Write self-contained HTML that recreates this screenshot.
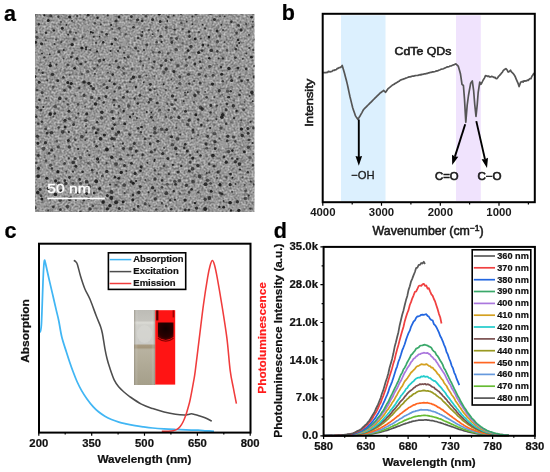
<!DOCTYPE html>
<html><head><meta charset="utf-8"><title>CdTe QDs figure</title>
<style>html,body{margin:0;padding:0;background:#fff;} svg{display:block;}</style></head>
<body>
<svg width="550" height="472" viewBox="0 0 550 472" font-family="'Liberation Sans', Arial, sans-serif">
<rect width="550" height="472" fill="#fff"/>
<defs>
<filter id="nz" x="0" y="0" width="100%" height="100%" filterUnits="objectBoundingBox" color-interpolation-filters="sRGB"><feTurbulence type="fractalNoise" baseFrequency="0.5" numOctaves="2" seed="7" result="t"/><feColorMatrix in="t" type="matrix" values="0.6 0 0 0 0.3  0.6 0 0 0 0.3  0.6 0 0 0 0.3  0 0 0 0 1" result="c"/><feGaussianBlur in="c" stdDeviation="0.35"/></filter>
<filter id="bl" x="-50%" y="-50%" width="200%" height="200%"><feGaussianBlur stdDeviation="0.5"/></filter>
<clipPath id="tc"><rect x="35" y="14" width="219.5" height="198"/></clipPath>
</defs>
<g clip-path="url(#tc)">
<rect x="35" y="14" width="219.5" height="198" fill="#999" filter="url(#nz)"/>
<g fill="#3a3a3a" fill-opacity="0.22" filter="url(#bl)"><circle cx="36.6" cy="15.8" r="1.7"/><circle cx="47.3" cy="14.8" r="1.5"/><circle cx="55.4" cy="12.3" r="1.8"/><circle cx="64.8" cy="16.7" r="1.7"/><circle cx="69.3" cy="11.3" r="1.4"/><circle cx="93.5" cy="17.9" r="1.8"/><circle cx="121.4" cy="14.3" r="1.1"/><circle cx="133.6" cy="18.8" r="1.4"/><circle cx="142.8" cy="18.8" r="1.2"/><circle cx="159.3" cy="16.4" r="1.1"/><circle cx="162.9" cy="13.4" r="1.8"/><circle cx="181.9" cy="16.4" r="1.3"/><circle cx="196.8" cy="12.5" r="1.6"/><circle cx="219.0" cy="12.9" r="1.1"/><circle cx="231.5" cy="15.5" r="1.2"/><circle cx="253.5" cy="13.8" r="1.1"/><circle cx="38.6" cy="23.0" r="1.0"/><circle cx="59.5" cy="24.4" r="1.8"/><circle cx="78.1" cy="25.6" r="1.7"/><circle cx="84.6" cy="22.6" r="1.3"/><circle cx="100.8" cy="25.0" r="1.1"/><circle cx="110.1" cy="25.3" r="1.0"/><circle cx="116.3" cy="25.0" r="1.7"/><circle cx="131.5" cy="21.5" r="1.3"/><circle cx="139.5" cy="24.2" r="1.6"/><circle cx="151.1" cy="24.9" r="1.5"/><circle cx="164.3" cy="21.8" r="1.0"/><circle cx="166.3" cy="18.7" r="1.3"/><circle cx="181.4" cy="24.3" r="1.7"/><circle cx="183.3" cy="23.1" r="1.0"/><circle cx="196.4" cy="21.5" r="1.7"/><circle cx="206.4" cy="26.1" r="1.5"/><circle cx="212.7" cy="19.2" r="1.4"/><circle cx="218.3" cy="20.4" r="1.5"/><circle cx="247.3" cy="25.8" r="1.5"/><circle cx="255.2" cy="24.0" r="1.8"/><circle cx="36.7" cy="28.4" r="1.2"/><circle cx="51.3" cy="32.3" r="1.2"/><circle cx="65.7" cy="29.7" r="1.5"/><circle cx="76.9" cy="31.6" r="1.5"/><circle cx="84.7" cy="30.9" r="1.5"/><circle cx="95.6" cy="31.7" r="1.1"/><circle cx="106.7" cy="28.6" r="1.0"/><circle cx="117.0" cy="29.0" r="1.4"/><circle cx="130.2" cy="31.2" r="1.5"/><circle cx="144.3" cy="28.3" r="1.6"/><circle cx="166.8" cy="30.7" r="1.4"/><circle cx="170.5" cy="27.3" r="1.4"/><circle cx="185.2" cy="26.2" r="1.4"/><circle cx="211.3" cy="26.8" r="1.6"/><circle cx="217.3" cy="27.1" r="1.3"/><circle cx="227.5" cy="26.1" r="1.6"/><circle cx="245.3" cy="29.8" r="1.5"/><circle cx="250.7" cy="27.4" r="1.4"/><circle cx="41.6" cy="34.6" r="1.4"/><circle cx="45.5" cy="37.7" r="1.7"/><circle cx="68.6" cy="40.8" r="1.7"/><circle cx="74.0" cy="40.1" r="1.6"/><circle cx="84.5" cy="35.8" r="1.4"/><circle cx="90.0" cy="40.1" r="1.4"/><circle cx="99.5" cy="40.2" r="1.4"/><circle cx="106.2" cy="38.2" r="1.4"/><circle cx="119.3" cy="33.8" r="1.3"/><circle cx="123.8" cy="36.0" r="1.1"/><circle cx="134.6" cy="40.8" r="1.2"/><circle cx="140.2" cy="38.8" r="1.8"/><circle cx="152.1" cy="37.2" r="1.2"/><circle cx="159.5" cy="38.6" r="1.3"/><circle cx="172.1" cy="34.3" r="1.3"/><circle cx="179.8" cy="40.0" r="1.4"/><circle cx="188.1" cy="36.1" r="1.7"/><circle cx="192.5" cy="39.4" r="1.7"/><circle cx="206.1" cy="33.8" r="1.5"/><circle cx="209.9" cy="39.6" r="1.7"/><circle cx="218.8" cy="33.7" r="1.1"/><circle cx="227.2" cy="40.1" r="1.4"/><circle cx="235.6" cy="34.8" r="1.1"/><circle cx="250.2" cy="35.4" r="1.1"/><circle cx="258.3" cy="36.1" r="1.5"/><circle cx="36.3" cy="44.5" r="1.6"/><circle cx="52.0" cy="48.8" r="1.3"/><circle cx="59.5" cy="42.5" r="1.7"/><circle cx="67.9" cy="45.8" r="1.3"/><circle cx="84.8" cy="44.8" r="1.0"/><circle cx="95.0" cy="46.7" r="1.6"/><circle cx="102.4" cy="44.7" r="1.6"/><circle cx="116.9" cy="44.6" r="1.8"/><circle cx="125.1" cy="47.2" r="1.2"/><circle cx="127.8" cy="41.0" r="1.8"/><circle cx="147.3" cy="43.5" r="1.0"/><circle cx="156.4" cy="46.6" r="1.3"/><circle cx="178.7" cy="47.3" r="1.4"/><circle cx="188.2" cy="42.3" r="1.5"/><circle cx="197.6" cy="42.8" r="1.2"/><circle cx="210.8" cy="47.4" r="1.7"/><circle cx="218.9" cy="46.8" r="1.2"/><circle cx="235.0" cy="48.3" r="1.3"/><circle cx="241.5" cy="43.0" r="1.1"/><circle cx="58.0" cy="49.6" r="1.4"/><circle cx="65.3" cy="48.3" r="1.3"/><circle cx="80.2" cy="51.4" r="1.8"/><circle cx="95.4" cy="53.1" r="1.7"/><circle cx="99.3" cy="55.8" r="1.4"/><circle cx="111.9" cy="51.8" r="1.3"/><circle cx="131.4" cy="53.2" r="1.1"/><circle cx="151.6" cy="49.4" r="1.5"/><circle cx="162.3" cy="54.4" r="1.6"/><circle cx="186.3" cy="52.5" r="1.7"/><circle cx="194.4" cy="52.6" r="1.5"/><circle cx="214.2" cy="51.4" r="1.4"/><circle cx="222.1" cy="55.2" r="1.5"/><circle cx="232.6" cy="49.9" r="1.3"/><circle cx="240.7" cy="54.9" r="1.7"/><circle cx="257.9" cy="53.0" r="1.1"/><circle cx="45.6" cy="61.0" r="1.3"/><circle cx="79.1" cy="62.9" r="1.4"/><circle cx="90.5" cy="60.0" r="1.2"/><circle cx="94.9" cy="60.4" r="1.5"/><circle cx="116.3" cy="60.7" r="1.4"/><circle cx="125.3" cy="58.9" r="1.2"/><circle cx="136.6" cy="57.7" r="1.2"/><circle cx="145.2" cy="57.0" r="1.4"/><circle cx="158.4" cy="58.8" r="1.4"/><circle cx="165.3" cy="59.3" r="1.0"/><circle cx="176.1" cy="63.6" r="1.3"/><circle cx="185.1" cy="56.8" r="1.3"/><circle cx="193.7" cy="59.3" r="1.4"/><circle cx="203.2" cy="60.4" r="1.5"/><circle cx="218.7" cy="59.1" r="1.3"/><circle cx="222.1" cy="60.1" r="1.3"/><circle cx="239.7" cy="61.0" r="1.1"/><circle cx="250.2" cy="56.2" r="1.2"/><circle cx="39.3" cy="64.3" r="1.3"/><circle cx="46.9" cy="65.2" r="1.3"/><circle cx="57.2" cy="70.9" r="1.3"/><circle cx="65.1" cy="70.1" r="1.6"/><circle cx="73.1" cy="65.3" r="1.7"/><circle cx="85.4" cy="67.2" r="1.8"/><circle cx="92.4" cy="70.9" r="1.3"/><circle cx="97.7" cy="67.5" r="1.5"/><circle cx="110.5" cy="63.9" r="1.6"/><circle cx="117.2" cy="64.5" r="1.7"/><circle cx="126.4" cy="65.8" r="1.8"/><circle cx="138.4" cy="68.9" r="1.5"/><circle cx="142.8" cy="63.9" r="1.3"/><circle cx="148.3" cy="65.8" r="1.2"/><circle cx="160.9" cy="66.5" r="1.2"/><circle cx="172.8" cy="70.6" r="1.1"/><circle cx="181.9" cy="64.1" r="1.4"/><circle cx="187.5" cy="63.6" r="1.4"/><circle cx="194.9" cy="65.5" r="1.2"/><circle cx="200.6" cy="68.6" r="1.2"/><circle cx="216.0" cy="65.5" r="1.7"/><circle cx="228.2" cy="70.6" r="1.3"/><circle cx="234.9" cy="65.2" r="1.4"/><circle cx="250.7" cy="63.5" r="1.3"/><circle cx="254.8" cy="66.5" r="1.5"/><circle cx="34.9" cy="76.4" r="1.2"/><circle cx="43.9" cy="77.3" r="1.5"/><circle cx="50.8" cy="73.7" r="1.5"/><circle cx="65.5" cy="71.4" r="1.7"/><circle cx="74.0" cy="72.9" r="1.7"/><circle cx="80.0" cy="74.6" r="1.5"/><circle cx="99.3" cy="72.5" r="1.2"/><circle cx="102.5" cy="74.9" r="1.4"/><circle cx="110.6" cy="72.8" r="1.5"/><circle cx="128.6" cy="74.8" r="1.3"/><circle cx="149.5" cy="76.9" r="1.6"/><circle cx="165.9" cy="71.1" r="1.7"/><circle cx="175.7" cy="74.4" r="1.1"/><circle cx="186.9" cy="74.9" r="1.4"/><circle cx="197.3" cy="74.8" r="1.5"/><circle cx="204.0" cy="72.4" r="1.3"/><circle cx="216.6" cy="73.4" r="1.4"/><circle cx="221.8" cy="77.7" r="1.1"/><circle cx="236.2" cy="71.0" r="1.4"/><circle cx="246.2" cy="73.0" r="1.3"/><circle cx="253.0" cy="74.1" r="1.6"/><circle cx="42.1" cy="84.4" r="1.7"/><circle cx="51.4" cy="80.0" r="1.7"/><circle cx="55.9" cy="78.6" r="1.7"/><circle cx="68.7" cy="85.4" r="1.5"/><circle cx="74.4" cy="83.3" r="1.5"/><circle cx="85.2" cy="84.8" r="1.8"/><circle cx="89.2" cy="84.9" r="1.6"/><circle cx="98.1" cy="85.7" r="1.4"/><circle cx="105.1" cy="81.5" r="1.4"/><circle cx="117.4" cy="82.5" r="1.2"/><circle cx="125.2" cy="82.3" r="1.3"/><circle cx="133.8" cy="84.6" r="1.4"/><circle cx="147.5" cy="79.2" r="1.2"/><circle cx="151.5" cy="83.6" r="1.0"/><circle cx="159.1" cy="79.0" r="1.1"/><circle cx="176.8" cy="81.5" r="1.5"/><circle cx="186.6" cy="84.0" r="1.7"/><circle cx="206.7" cy="85.9" r="1.6"/><circle cx="214.9" cy="84.7" r="1.8"/><circle cx="223.9" cy="83.3" r="1.3"/><circle cx="226.7" cy="80.8" r="1.1"/><circle cx="239.7" cy="81.2" r="1.7"/><circle cx="246.3" cy="83.2" r="1.6"/><circle cx="258.1" cy="78.3" r="1.6"/><circle cx="37.9" cy="86.5" r="1.7"/><circle cx="46.0" cy="90.2" r="1.6"/><circle cx="53.1" cy="85.9" r="1.3"/><circle cx="62.9" cy="90.2" r="1.7"/><circle cx="68.5" cy="86.0" r="1.2"/><circle cx="77.6" cy="88.7" r="1.8"/><circle cx="84.4" cy="88.3" r="1.4"/><circle cx="101.5" cy="86.0" r="1.6"/><circle cx="112.2" cy="92.6" r="1.4"/><circle cx="127.2" cy="86.9" r="1.5"/><circle cx="147.2" cy="85.7" r="1.1"/><circle cx="180.1" cy="88.8" r="1.6"/><circle cx="189.4" cy="90.3" r="1.7"/><circle cx="204.3" cy="86.9" r="1.1"/><circle cx="228.0" cy="88.3" r="1.5"/><circle cx="231.0" cy="87.5" r="1.6"/><circle cx="249.0" cy="87.2" r="1.6"/><circle cx="48.5" cy="98.8" r="1.3"/><circle cx="90.9" cy="96.9" r="1.6"/><circle cx="97.6" cy="100.0" r="1.6"/><circle cx="112.5" cy="99.2" r="1.1"/><circle cx="120.4" cy="98.4" r="1.5"/><circle cx="127.4" cy="98.1" r="1.5"/><circle cx="138.1" cy="100.0" r="1.8"/><circle cx="144.5" cy="93.0" r="1.7"/><circle cx="149.3" cy="99.0" r="1.1"/><circle cx="160.3" cy="97.3" r="1.3"/><circle cx="168.4" cy="99.6" r="1.7"/><circle cx="174.7" cy="99.9" r="1.4"/><circle cx="194.3" cy="94.5" r="1.7"/><circle cx="201.1" cy="100.7" r="1.6"/><circle cx="210.9" cy="100.4" r="1.2"/><circle cx="219.4" cy="95.9" r="1.8"/><circle cx="233.5" cy="99.8" r="1.7"/><circle cx="238.6" cy="95.4" r="1.2"/><circle cx="246.7" cy="94.4" r="1.5"/><circle cx="254.3" cy="95.0" r="1.5"/><circle cx="36.3" cy="102.1" r="1.2"/><circle cx="48.4" cy="101.4" r="1.5"/><circle cx="56.1" cy="102.6" r="1.2"/><circle cx="64.1" cy="108.0" r="1.6"/><circle cx="72.0" cy="100.8" r="1.2"/><circle cx="84.6" cy="102.1" r="1.7"/><circle cx="94.8" cy="104.4" r="1.2"/><circle cx="114.9" cy="101.7" r="1.3"/><circle cx="121.0" cy="101.2" r="1.5"/><circle cx="129.0" cy="104.3" r="1.4"/><circle cx="144.3" cy="100.5" r="1.4"/><circle cx="155.3" cy="106.1" r="1.5"/><circle cx="167.6" cy="103.2" r="1.2"/><circle cx="182.9" cy="102.8" r="1.8"/><circle cx="193.8" cy="107.6" r="1.6"/><circle cx="202.1" cy="108.1" r="1.4"/><circle cx="210.9" cy="107.2" r="1.5"/><circle cx="214.9" cy="107.6" r="1.7"/><circle cx="222.0" cy="107.4" r="1.3"/><circle cx="233.5" cy="100.6" r="1.2"/><circle cx="242.0" cy="104.1" r="1.7"/><circle cx="251.6" cy="104.0" r="1.7"/><circle cx="42.8" cy="112.9" r="1.4"/><circle cx="58.8" cy="108.9" r="1.7"/><circle cx="62.5" cy="108.5" r="1.2"/><circle cx="73.8" cy="115.4" r="1.7"/><circle cx="92.9" cy="110.7" r="1.7"/><circle cx="120.6" cy="110.3" r="1.5"/><circle cx="123.2" cy="111.9" r="1.7"/><circle cx="137.3" cy="110.2" r="1.7"/><circle cx="143.7" cy="113.7" r="1.4"/><circle cx="153.0" cy="114.6" r="1.5"/><circle cx="165.3" cy="113.6" r="1.6"/><circle cx="177.6" cy="110.0" r="1.3"/><circle cx="195.5" cy="111.8" r="1.5"/><circle cx="200.6" cy="114.6" r="1.4"/><circle cx="212.1" cy="114.2" r="1.4"/><circle cx="223.5" cy="115.4" r="1.5"/><circle cx="229.1" cy="112.4" r="1.3"/><circle cx="238.1" cy="115.6" r="1.1"/><circle cx="245.9" cy="108.1" r="1.2"/><circle cx="33.7" cy="123.0" r="1.7"/><circle cx="42.2" cy="116.5" r="1.4"/><circle cx="51.4" cy="117.1" r="1.5"/><circle cx="63.7" cy="121.8" r="1.7"/><circle cx="74.0" cy="122.1" r="1.3"/><circle cx="88.6" cy="117.4" r="1.4"/><circle cx="104.6" cy="116.9" r="1.4"/><circle cx="118.5" cy="122.9" r="1.4"/><circle cx="133.9" cy="119.8" r="1.2"/><circle cx="150.6" cy="120.2" r="1.3"/><circle cx="155.6" cy="122.3" r="1.1"/><circle cx="182.7" cy="121.2" r="1.6"/><circle cx="200.7" cy="116.2" r="1.4"/><circle cx="215.8" cy="117.9" r="1.2"/><circle cx="225.5" cy="122.4" r="1.3"/><circle cx="231.3" cy="121.3" r="1.5"/><circle cx="248.1" cy="120.1" r="1.2"/><circle cx="38.0" cy="122.9" r="1.3"/><circle cx="48.4" cy="125.7" r="1.2"/><circle cx="65.6" cy="128.7" r="1.5"/><circle cx="97.7" cy="130.0" r="1.6"/><circle cx="124.7" cy="129.7" r="1.7"/><circle cx="138.4" cy="129.3" r="1.2"/><circle cx="144.7" cy="126.0" r="1.8"/><circle cx="163.0" cy="129.6" r="1.4"/><circle cx="172.7" cy="128.6" r="1.2"/><circle cx="178.0" cy="123.2" r="1.6"/><circle cx="188.8" cy="126.4" r="1.6"/><circle cx="193.9" cy="122.7" r="1.4"/><circle cx="204.2" cy="124.3" r="1.5"/><circle cx="213.6" cy="124.6" r="1.7"/><circle cx="223.4" cy="129.3" r="1.3"/><circle cx="232.0" cy="122.8" r="1.6"/><circle cx="240.9" cy="124.7" r="1.5"/><circle cx="246.7" cy="123.1" r="1.6"/><circle cx="256.7" cy="126.3" r="1.7"/><circle cx="36.1" cy="135.1" r="1.8"/><circle cx="41.9" cy="133.9" r="1.6"/><circle cx="49.4" cy="131.7" r="1.4"/><circle cx="63.9" cy="132.0" r="1.8"/><circle cx="73.4" cy="132.1" r="1.1"/><circle cx="76.4" cy="134.9" r="1.5"/><circle cx="84.3" cy="132.6" r="1.3"/><circle cx="97.9" cy="132.7" r="1.8"/><circle cx="101.8" cy="131.8" r="1.1"/><circle cx="109.7" cy="130.7" r="1.1"/><circle cx="119.4" cy="133.5" r="1.7"/><circle cx="130.6" cy="133.6" r="1.7"/><circle cx="138.3" cy="136.3" r="1.7"/><circle cx="157.8" cy="132.3" r="1.3"/><circle cx="165.0" cy="130.2" r="1.2"/><circle cx="170.4" cy="136.2" r="1.7"/><circle cx="179.4" cy="130.4" r="1.7"/><circle cx="192.3" cy="130.5" r="1.5"/><circle cx="197.6" cy="135.9" r="1.8"/><circle cx="206.4" cy="135.6" r="1.7"/><circle cx="228.2" cy="136.2" r="1.4"/><circle cx="231.7" cy="131.8" r="1.2"/><circle cx="246.3" cy="132.1" r="1.0"/><circle cx="250.5" cy="136.1" r="1.7"/><circle cx="41.5" cy="141.1" r="1.5"/><circle cx="57.8" cy="140.3" r="1.0"/><circle cx="69.4" cy="139.6" r="1.0"/><circle cx="70.8" cy="137.8" r="1.7"/><circle cx="86.8" cy="138.9" r="1.2"/><circle cx="93.7" cy="139.6" r="1.6"/><circle cx="99.9" cy="145.1" r="1.7"/><circle cx="113.0" cy="138.6" r="1.8"/><circle cx="120.2" cy="144.1" r="1.3"/><circle cx="129.6" cy="139.9" r="1.2"/><circle cx="136.4" cy="145.2" r="1.1"/><circle cx="139.8" cy="143.8" r="1.2"/><circle cx="149.1" cy="139.0" r="1.3"/><circle cx="168.1" cy="137.7" r="1.7"/><circle cx="179.3" cy="138.6" r="1.2"/><circle cx="210.8" cy="138.0" r="1.4"/><circle cx="226.8" cy="142.0" r="1.3"/><circle cx="238.8" cy="144.8" r="1.3"/><circle cx="244.1" cy="144.4" r="1.4"/><circle cx="32.6" cy="146.6" r="1.7"/><circle cx="47.5" cy="152.9" r="1.6"/><circle cx="51.9" cy="145.5" r="1.7"/><circle cx="60.5" cy="153.0" r="1.5"/><circle cx="79.4" cy="152.7" r="1.6"/><circle cx="89.7" cy="148.0" r="1.3"/><circle cx="98.9" cy="151.3" r="1.6"/><circle cx="101.9" cy="152.4" r="1.6"/><circle cx="116.7" cy="151.2" r="1.3"/><circle cx="118.8" cy="152.1" r="1.3"/><circle cx="133.3" cy="146.2" r="1.1"/><circle cx="140.4" cy="146.9" r="1.5"/><circle cx="145.8" cy="145.2" r="1.5"/><circle cx="155.3" cy="148.9" r="1.0"/><circle cx="164.8" cy="151.7" r="1.8"/><circle cx="175.6" cy="149.8" r="1.3"/><circle cx="184.2" cy="146.5" r="1.7"/><circle cx="211.1" cy="145.2" r="1.7"/><circle cx="219.3" cy="150.3" r="1.7"/><circle cx="225.8" cy="150.7" r="1.5"/><circle cx="233.6" cy="147.8" r="1.4"/><circle cx="242.2" cy="147.8" r="1.8"/><circle cx="249.9" cy="148.8" r="1.4"/><circle cx="36.9" cy="155.2" r="1.2"/><circle cx="45.1" cy="156.6" r="1.8"/><circle cx="55.6" cy="158.5" r="1.7"/><circle cx="68.1" cy="154.1" r="1.2"/><circle cx="82.1" cy="153.3" r="1.5"/><circle cx="93.5" cy="153.8" r="1.0"/><circle cx="109.0" cy="155.3" r="1.2"/><circle cx="117.4" cy="154.6" r="1.7"/><circle cx="132.1" cy="155.6" r="1.1"/><circle cx="154.3" cy="158.1" r="1.1"/><circle cx="160.0" cy="153.4" r="1.3"/><circle cx="180.6" cy="157.7" r="1.7"/><circle cx="182.6" cy="155.1" r="1.8"/><circle cx="206.4" cy="155.7" r="1.6"/><circle cx="218.8" cy="157.7" r="1.8"/><circle cx="230.7" cy="155.4" r="1.8"/><circle cx="241.7" cy="160.1" r="1.5"/><circle cx="244.3" cy="160.4" r="1.5"/><circle cx="257.2" cy="159.5" r="1.7"/><circle cx="34.2" cy="165.0" r="1.2"/><circle cx="40.6" cy="165.7" r="1.6"/><circle cx="52.6" cy="162.8" r="1.6"/><circle cx="71.0" cy="166.8" r="1.2"/><circle cx="81.2" cy="162.8" r="1.7"/><circle cx="89.4" cy="162.3" r="1.2"/><circle cx="97.1" cy="167.6" r="1.4"/><circle cx="110.8" cy="163.4" r="1.0"/><circle cx="118.1" cy="166.7" r="1.6"/><circle cx="130.5" cy="163.7" r="1.4"/><circle cx="166.0" cy="167.0" r="1.7"/><circle cx="187.7" cy="165.2" r="1.8"/><circle cx="199.3" cy="166.6" r="1.1"/><circle cx="226.6" cy="162.5" r="1.8"/><circle cx="236.9" cy="161.8" r="1.3"/><circle cx="241.0" cy="162.0" r="1.1"/><circle cx="249.9" cy="164.5" r="1.1"/><circle cx="37.9" cy="172.3" r="1.0"/><circle cx="50.5" cy="175.4" r="1.2"/><circle cx="56.6" cy="173.9" r="1.3"/><circle cx="63.1" cy="175.0" r="1.2"/><circle cx="74.9" cy="169.7" r="1.4"/><circle cx="88.9" cy="175.1" r="1.5"/><circle cx="112.7" cy="175.0" r="1.1"/><circle cx="116.6" cy="170.8" r="1.1"/><circle cx="138.2" cy="168.1" r="1.4"/><circle cx="143.7" cy="168.7" r="1.4"/><circle cx="160.9" cy="168.9" r="1.8"/><circle cx="167.1" cy="167.7" r="1.2"/><circle cx="174.6" cy="169.4" r="1.2"/><circle cx="212.3" cy="170.3" r="1.1"/><circle cx="223.1" cy="173.1" r="1.4"/><circle cx="233.2" cy="169.2" r="1.7"/><circle cx="244.5" cy="171.5" r="1.6"/><circle cx="253.0" cy="169.2" r="1.2"/><circle cx="41.9" cy="176.8" r="1.3"/><circle cx="54.5" cy="177.7" r="1.7"/><circle cx="58.7" cy="178.4" r="1.7"/><circle cx="71.0" cy="180.3" r="1.3"/><circle cx="77.7" cy="177.2" r="1.7"/><circle cx="104.1" cy="182.8" r="1.7"/><circle cx="117.0" cy="182.0" r="1.4"/><circle cx="118.1" cy="182.3" r="1.8"/><circle cx="130.6" cy="182.2" r="1.3"/><circle cx="140.5" cy="178.6" r="1.6"/><circle cx="147.7" cy="180.4" r="1.6"/><circle cx="156.0" cy="179.5" r="1.1"/><circle cx="167.5" cy="176.6" r="1.6"/><circle cx="184.7" cy="177.6" r="1.5"/><circle cx="193.6" cy="176.3" r="1.7"/><circle cx="195.7" cy="175.7" r="1.7"/><circle cx="205.4" cy="178.1" r="1.3"/><circle cx="219.8" cy="176.4" r="1.7"/><circle cx="225.4" cy="177.0" r="1.5"/><circle cx="232.8" cy="179.3" r="1.4"/><circle cx="238.7" cy="181.2" r="1.3"/><circle cx="254.0" cy="181.6" r="1.2"/><circle cx="43.4" cy="183.9" r="1.5"/><circle cx="58.9" cy="186.3" r="1.7"/><circle cx="65.0" cy="185.1" r="1.7"/><circle cx="76.4" cy="183.9" r="1.5"/><circle cx="93.4" cy="184.8" r="1.2"/><circle cx="100.1" cy="189.8" r="1.8"/><circle cx="114.7" cy="186.4" r="1.4"/><circle cx="127.7" cy="190.3" r="1.5"/><circle cx="133.6" cy="184.9" r="1.3"/><circle cx="149.1" cy="183.6" r="1.4"/><circle cx="156.8" cy="184.3" r="1.1"/><circle cx="169.8" cy="189.9" r="1.7"/><circle cx="180.8" cy="187.5" r="1.4"/><circle cx="188.9" cy="182.5" r="1.7"/><circle cx="199.1" cy="187.9" r="1.2"/><circle cx="202.1" cy="189.8" r="1.4"/><circle cx="224.7" cy="183.2" r="1.6"/><circle cx="226.9" cy="187.0" r="1.1"/><circle cx="252.3" cy="182.4" r="1.6"/><circle cx="38.8" cy="193.7" r="1.3"/><circle cx="43.0" cy="193.0" r="1.7"/><circle cx="49.8" cy="197.3" r="1.0"/><circle cx="59.9" cy="194.2" r="1.6"/><circle cx="70.1" cy="191.0" r="1.7"/><circle cx="91.0" cy="193.0" r="1.2"/><circle cx="104.2" cy="191.3" r="1.1"/><circle cx="116.0" cy="190.2" r="1.3"/><circle cx="119.4" cy="196.7" r="1.4"/><circle cx="133.0" cy="193.9" r="1.1"/><circle cx="137.0" cy="194.1" r="1.3"/><circle cx="150.9" cy="194.3" r="1.7"/><circle cx="154.1" cy="193.5" r="1.7"/><circle cx="162.5" cy="195.3" r="1.0"/><circle cx="170.7" cy="195.7" r="1.0"/><circle cx="184.2" cy="192.7" r="1.8"/><circle cx="188.8" cy="195.0" r="1.2"/><circle cx="202.6" cy="196.5" r="1.5"/><circle cx="208.5" cy="189.8" r="1.5"/><circle cx="215.7" cy="196.8" r="1.3"/><circle cx="223.6" cy="195.5" r="1.2"/><circle cx="236.0" cy="196.8" r="1.0"/><circle cx="246.1" cy="194.1" r="1.7"/><circle cx="249.2" cy="197.7" r="1.8"/><circle cx="43.3" cy="201.4" r="1.6"/><circle cx="47.3" cy="200.7" r="1.4"/><circle cx="60.6" cy="202.9" r="1.1"/><circle cx="72.8" cy="199.1" r="1.1"/><circle cx="83.4" cy="203.7" r="1.5"/><circle cx="104.2" cy="201.0" r="1.1"/><circle cx="111.3" cy="201.9" r="1.2"/><circle cx="118.4" cy="199.9" r="1.2"/><circle cx="126.2" cy="200.1" r="1.1"/><circle cx="137.8" cy="197.8" r="1.4"/><circle cx="147.3" cy="198.8" r="1.0"/><circle cx="157.2" cy="197.3" r="1.7"/><circle cx="189.5" cy="204.7" r="1.5"/><circle cx="196.7" cy="197.2" r="1.2"/><circle cx="205.2" cy="201.2" r="1.1"/><circle cx="208.8" cy="202.9" r="1.8"/><circle cx="218.3" cy="198.9" r="1.1"/><circle cx="236.3" cy="200.6" r="1.3"/><circle cx="244.5" cy="200.5" r="1.6"/><circle cx="252.5" cy="204.3" r="1.3"/><circle cx="47.4" cy="211.6" r="1.3"/><circle cx="50.4" cy="210.1" r="1.6"/><circle cx="58.4" cy="209.1" r="1.3"/><circle cx="72.1" cy="212.0" r="1.6"/><circle cx="81.2" cy="211.8" r="1.0"/><circle cx="87.3" cy="212.3" r="1.4"/><circle cx="96.2" cy="207.4" r="1.3"/><circle cx="104.2" cy="205.0" r="1.5"/><circle cx="116.6" cy="207.9" r="1.4"/><circle cx="118.4" cy="211.1" r="1.4"/><circle cx="128.4" cy="206.8" r="1.4"/><circle cx="149.6" cy="212.6" r="1.2"/><circle cx="157.9" cy="210.4" r="1.4"/><circle cx="162.6" cy="211.1" r="1.7"/><circle cx="176.2" cy="211.2" r="1.0"/><circle cx="178.7" cy="206.0" r="1.4"/><circle cx="190.1" cy="209.5" r="1.5"/><circle cx="196.9" cy="205.4" r="1.4"/><circle cx="209.6" cy="210.0" r="1.6"/><circle cx="220.1" cy="208.3" r="1.2"/><circle cx="222.8" cy="212.6" r="1.2"/><circle cx="237.2" cy="211.3" r="1.5"/><circle cx="243.7" cy="210.2" r="1.8"/><circle cx="251.4" cy="208.9" r="1.6"/></g>
<g fill="#1c1c1c" filter="url(#bl)"><circle cx="34.1" cy="15.3" r="1.3" fill-opacity="0.97"/><circle cx="44.4" cy="15.3" r="1.1" fill-opacity="1.00"/><circle cx="50.7" cy="15.9" r="1.6" fill-opacity="0.76"/><circle cx="58.5" cy="16.8" r="1.2" fill-opacity="0.79"/><circle cx="69.6" cy="16.9" r="1.5" fill-opacity="0.99"/><circle cx="77.3" cy="16.1" r="1.2" fill-opacity="0.77"/><circle cx="88.1" cy="15.2" r="1.4" fill-opacity="0.83"/><circle cx="97.5" cy="17.7" r="1.2" fill-opacity="1.00"/><circle cx="107.7" cy="15.4" r="1.1" fill-opacity="0.85"/><circle cx="111.7" cy="12.6" r="1.4" fill-opacity="0.94"/><circle cx="119.0" cy="16.9" r="1.4" fill-opacity="0.96"/><circle cx="131.4" cy="16.7" r="1.4" fill-opacity="0.89"/><circle cx="142.8" cy="13.8" r="0.9" fill-opacity="0.64"/><circle cx="146.1" cy="16.2" r="1.3" fill-opacity="0.73"/><circle cx="159.3" cy="14.2" r="1.4" fill-opacity="0.95"/><circle cx="168.4" cy="17.0" r="1.2" fill-opacity="0.77"/><circle cx="173.8" cy="15.3" r="0.9" fill-opacity="0.92"/><circle cx="180.9" cy="14.2" r="1.0" fill-opacity="0.62"/><circle cx="192.3" cy="16.5" r="0.9" fill-opacity="0.84"/><circle cx="196.0" cy="14.2" r="1.4" fill-opacity="0.72"/><circle cx="210.5" cy="13.5" r="1.4" fill-opacity="0.64"/><circle cx="220.0" cy="16.2" r="1.0" fill-opacity="0.72"/><circle cx="224.7" cy="16.3" r="0.9" fill-opacity="0.84"/><circle cx="235.1" cy="13.2" r="1.0" fill-opacity="0.63"/><circle cx="244.5" cy="12.0" r="1.1" fill-opacity="0.73"/><circle cx="251.5" cy="17.3" r="1.3" fill-opacity="0.92"/><circle cx="38.8" cy="24.3" r="1.2" fill-opacity="0.79"/><circle cx="48.3" cy="20.5" r="1.5" fill-opacity="0.98"/><circle cx="61.0" cy="22.0" r="1.1" fill-opacity="0.61"/><circle cx="66.4" cy="24.9" r="0.9" fill-opacity="0.94"/><circle cx="72.0" cy="20.8" r="0.9" fill-opacity="0.96"/><circle cx="83.9" cy="19.3" r="0.9" fill-opacity="0.67"/><circle cx="95.1" cy="23.2" r="1.3" fill-opacity="0.65"/><circle cx="100.8" cy="24.4" r="0.9" fill-opacity="0.74"/><circle cx="111.2" cy="25.1" r="1.0" fill-opacity="0.93"/><circle cx="116.1" cy="21.0" r="1.6" fill-opacity="0.81"/><circle cx="128.3" cy="19.5" r="0.9" fill-opacity="0.63"/><circle cx="137.5" cy="19.8" r="1.6" fill-opacity="0.80"/><circle cx="142.1" cy="20.9" r="1.3" fill-opacity="0.77"/><circle cx="152.6" cy="19.5" r="1.5" fill-opacity="0.84"/><circle cx="160.2" cy="21.6" r="1.5" fill-opacity="0.90"/><circle cx="167.3" cy="21.0" r="0.9" fill-opacity="0.92"/><circle cx="181.3" cy="22.8" r="1.2" fill-opacity="0.65"/><circle cx="186.7" cy="21.7" r="0.9" fill-opacity="0.89"/><circle cx="192.5" cy="24.2" r="0.9" fill-opacity="0.81"/><circle cx="202.6" cy="24.7" r="0.9" fill-opacity="0.94"/><circle cx="214.5" cy="19.5" r="1.6" fill-opacity="0.81"/><circle cx="221.3" cy="24.8" r="1.0" fill-opacity="0.93"/><circle cx="231.3" cy="21.8" r="1.3" fill-opacity="0.84"/><circle cx="238.5" cy="25.4" r="1.4" fill-opacity="0.80"/><circle cx="246.1" cy="24.0" r="1.0" fill-opacity="0.77"/><circle cx="252.8" cy="21.8" r="1.0" fill-opacity="0.67"/><circle cx="36.6" cy="32.2" r="1.0" fill-opacity="0.71"/><circle cx="46.0" cy="32.8" r="1.2" fill-opacity="0.87"/><circle cx="53.9" cy="30.4" r="1.2" fill-opacity="0.96"/><circle cx="62.3" cy="28.2" r="1.5" fill-opacity="0.91"/><circle cx="70.2" cy="32.0" r="1.6" fill-opacity="0.61"/><circle cx="75.9" cy="32.8" r="0.9" fill-opacity="0.79"/><circle cx="90.9" cy="32.2" r="1.1" fill-opacity="0.96"/><circle cx="92.9" cy="32.7" r="1.0" fill-opacity="0.95"/><circle cx="101.9" cy="32.0" r="1.2" fill-opacity="0.61"/><circle cx="112.2" cy="29.1" r="1.0" fill-opacity="0.68"/><circle cx="119.3" cy="28.5" r="1.4" fill-opacity="0.65"/><circle cx="133.5" cy="27.3" r="1.3" fill-opacity="0.87"/><circle cx="142.4" cy="31.9" r="1.0" fill-opacity="0.90"/><circle cx="149.0" cy="30.1" r="1.0" fill-opacity="0.87"/><circle cx="158.1" cy="30.8" r="1.0" fill-opacity="0.67"/><circle cx="166.1" cy="27.5" r="1.6" fill-opacity="0.66"/><circle cx="174.7" cy="29.6" r="1.2" fill-opacity="0.91"/><circle cx="182.7" cy="29.2" r="1.0" fill-opacity="0.71"/><circle cx="189.0" cy="31.6" r="1.3" fill-opacity="0.95"/><circle cx="199.0" cy="31.9" r="1.0" fill-opacity="0.74"/><circle cx="205.2" cy="28.4" r="1.0" fill-opacity="0.87"/><circle cx="217.1" cy="31.0" r="1.4" fill-opacity="0.93"/><circle cx="223.0" cy="30.1" r="1.0" fill-opacity="0.68"/><circle cx="236.6" cy="32.8" r="1.4" fill-opacity="0.73"/><circle cx="241.0" cy="29.9" r="1.6" fill-opacity="0.87"/><circle cx="252.6" cy="26.7" r="1.1" fill-opacity="0.80"/><circle cx="37.0" cy="37.3" r="1.5" fill-opacity="0.64"/><circle cx="45.9" cy="40.1" r="0.9" fill-opacity="0.74"/><circle cx="56.2" cy="39.7" r="1.1" fill-opacity="0.63"/><circle cx="68.1" cy="34.4" r="1.0" fill-opacity="0.90"/><circle cx="74.2" cy="39.0" r="1.5" fill-opacity="0.73"/><circle cx="82.5" cy="37.2" r="1.0" fill-opacity="0.81"/><circle cx="93.8" cy="36.7" r="1.0" fill-opacity="0.78"/><circle cx="99.5" cy="36.7" r="0.9" fill-opacity="0.92"/><circle cx="106.6" cy="34.3" r="1.4" fill-opacity="0.80"/><circle cx="115.4" cy="39.5" r="1.4" fill-opacity="0.78"/><circle cx="125.6" cy="34.3" r="1.1" fill-opacity="0.70"/><circle cx="137.9" cy="37.9" r="1.2" fill-opacity="0.71"/><circle cx="141.7" cy="35.8" r="1.3" fill-opacity="0.85"/><circle cx="152.8" cy="34.2" r="0.9" fill-opacity="0.87"/><circle cx="160.8" cy="36.3" r="1.5" fill-opacity="0.74"/><circle cx="171.1" cy="38.2" r="1.4" fill-opacity="0.64"/><circle cx="176.7" cy="38.5" r="1.4" fill-opacity="0.67"/><circle cx="189.5" cy="36.5" r="1.4" fill-opacity="0.78"/><circle cx="195.2" cy="39.0" r="1.4" fill-opacity="0.98"/><circle cx="200.8" cy="38.6" r="1.0" fill-opacity="0.73"/><circle cx="209.0" cy="37.1" r="1.3" fill-opacity="1.00"/><circle cx="219.7" cy="36.1" r="1.5" fill-opacity="0.63"/><circle cx="230.5" cy="37.9" r="0.9" fill-opacity="0.64"/><circle cx="238.1" cy="39.9" r="1.3" fill-opacity="0.92"/><circle cx="249.0" cy="34.9" r="0.9" fill-opacity="0.94"/><circle cx="254.6" cy="39.4" r="1.0" fill-opacity="0.86"/><circle cx="35.6" cy="42.3" r="1.5" fill-opacity="0.93"/><circle cx="41.6" cy="43.8" r="1.5" fill-opacity="0.90"/><circle cx="54.5" cy="43.9" r="1.0" fill-opacity="0.84"/><circle cx="61.3" cy="42.1" r="1.1" fill-opacity="0.73"/><circle cx="72.1" cy="44.6" r="1.7" fill-opacity="0.94"/><circle cx="81.8" cy="47.9" r="1.5" fill-opacity="1.00"/><circle cx="86.1" cy="47.6" r="1.1" fill-opacity="0.96"/><circle cx="96.0" cy="42.8" r="1.1" fill-opacity="0.71"/><circle cx="103.3" cy="42.3" r="1.2" fill-opacity="0.96"/><circle cx="111.8" cy="44.0" r="1.3" fill-opacity="0.98"/><circle cx="120.0" cy="47.7" r="1.2" fill-opacity="0.71"/><circle cx="128.7" cy="46.8" r="0.9" fill-opacity="0.61"/><circle cx="135.6" cy="47.9" r="1.5" fill-opacity="0.74"/><circle cx="146.8" cy="45.1" r="1.5" fill-opacity="0.67"/><circle cx="156.7" cy="42.2" r="1.2" fill-opacity="0.70"/><circle cx="161.6" cy="41.8" r="1.1" fill-opacity="0.97"/><circle cx="171.8" cy="42.5" r="1.4" fill-opacity="0.80"/><circle cx="182.6" cy="43.4" r="1.1" fill-opacity="0.62"/><circle cx="191.0" cy="46.4" r="1.7" fill-opacity="0.77"/><circle cx="202.9" cy="45.1" r="1.4" fill-opacity="0.91"/><circle cx="208.2" cy="45.3" r="1.1" fill-opacity="0.81"/><circle cx="217.4" cy="41.8" r="1.7" fill-opacity="0.65"/><circle cx="224.7" cy="42.1" r="0.9" fill-opacity="0.81"/><circle cx="237.1" cy="45.7" r="1.1" fill-opacity="0.72"/><circle cx="239.2" cy="43.0" r="0.9" fill-opacity="0.98"/><circle cx="249.2" cy="47.9" r="1.0" fill-opacity="0.80"/><circle cx="42.0" cy="53.5" r="1.0" fill-opacity="0.90"/><circle cx="49.8" cy="54.3" r="0.9" fill-opacity="0.98"/><circle cx="58.9" cy="51.8" r="1.5" fill-opacity="0.78"/><circle cx="63.7" cy="50.0" r="1.1" fill-opacity="0.88"/><circle cx="72.4" cy="53.0" r="1.2" fill-opacity="0.68"/><circle cx="86.0" cy="49.4" r="1.1" fill-opacity="0.81"/><circle cx="90.3" cy="49.9" r="1.1" fill-opacity="0.72"/><circle cx="97.0" cy="51.4" r="1.1" fill-opacity="0.99"/><circle cx="110.6" cy="51.0" r="0.9" fill-opacity="0.90"/><circle cx="118.0" cy="51.0" r="1.1" fill-opacity="0.81"/><circle cx="124.1" cy="52.8" r="1.1" fill-opacity="0.72"/><circle cx="138.2" cy="51.1" r="1.2" fill-opacity="0.65"/><circle cx="144.0" cy="50.0" r="1.0" fill-opacity="0.92"/><circle cx="153.4" cy="52.4" r="1.2" fill-opacity="0.64"/><circle cx="159.4" cy="52.3" r="1.3" fill-opacity="0.85"/><circle cx="168.2" cy="53.5" r="1.3" fill-opacity="0.71"/><circle cx="176.2" cy="49.8" r="1.7" fill-opacity="0.69"/><circle cx="188.1" cy="50.6" r="1.4" fill-opacity="0.99"/><circle cx="198.6" cy="52.4" r="1.5" fill-opacity="1.00"/><circle cx="202.2" cy="50.6" r="1.4" fill-opacity="0.75"/><circle cx="211.3" cy="50.4" r="1.7" fill-opacity="0.80"/><circle cx="217.4" cy="51.4" r="1.3" fill-opacity="0.76"/><circle cx="227.0" cy="50.4" r="1.3" fill-opacity="0.63"/><circle cx="235.9" cy="49.2" r="1.3" fill-opacity="0.81"/><circle cx="246.3" cy="53.4" r="1.0" fill-opacity="0.80"/><circle cx="253.3" cy="49.9" r="1.2" fill-opacity="0.71"/><circle cx="32.6" cy="58.7" r="0.9" fill-opacity="0.80"/><circle cx="44.4" cy="57.4" r="1.2" fill-opacity="0.80"/><circle cx="50.3" cy="62.8" r="1.0" fill-opacity="0.63"/><circle cx="63.6" cy="58.5" r="0.9" fill-opacity="0.73"/><circle cx="71.3" cy="57.1" r="1.3" fill-opacity="0.86"/><circle cx="77.0" cy="58.6" r="1.4" fill-opacity="0.98"/><circle cx="85.7" cy="61.8" r="1.1" fill-opacity="0.69"/><circle cx="99.7" cy="60.7" r="1.7" fill-opacity="0.69"/><circle cx="103.8" cy="59.8" r="1.3" fill-opacity="0.91"/><circle cx="116.0" cy="61.2" r="1.2" fill-opacity="0.78"/><circle cx="124.5" cy="57.7" r="1.0" fill-opacity="0.98"/><circle cx="128.3" cy="56.7" r="1.5" fill-opacity="0.70"/><circle cx="140.5" cy="61.2" r="1.2" fill-opacity="0.76"/><circle cx="149.2" cy="58.7" r="1.0" fill-opacity="0.68"/><circle cx="154.3" cy="61.7" r="1.3" fill-opacity="0.84"/><circle cx="165.7" cy="60.5" r="1.5" fill-opacity="0.75"/><circle cx="171.3" cy="59.8" r="1.4" fill-opacity="0.87"/><circle cx="185.8" cy="59.6" r="1.1" fill-opacity="0.65"/><circle cx="189.7" cy="57.4" r="1.3" fill-opacity="0.79"/><circle cx="200.0" cy="61.8" r="1.2" fill-opacity="0.85"/><circle cx="209.3" cy="58.3" r="1.3" fill-opacity="1.00"/><circle cx="218.4" cy="58.3" r="0.9" fill-opacity="0.77"/><circle cx="222.9" cy="58.4" r="1.2" fill-opacity="0.83"/><circle cx="235.4" cy="57.6" r="1.4" fill-opacity="0.79"/><circle cx="242.8" cy="58.8" r="0.9" fill-opacity="0.84"/><circle cx="251.4" cy="57.2" r="1.4" fill-opacity="0.95"/><circle cx="39.0" cy="70.0" r="1.0" fill-opacity="0.68"/><circle cx="50.2" cy="65.6" r="1.7" fill-opacity="0.98"/><circle cx="56.4" cy="64.6" r="1.1" fill-opacity="0.90"/><circle cx="68.0" cy="65.0" r="1.5" fill-opacity="0.71"/><circle cx="74.7" cy="68.3" r="1.4" fill-opacity="0.99"/><circle cx="80.8" cy="64.1" r="1.4" fill-opacity="0.86"/><circle cx="94.4" cy="68.6" r="1.4" fill-opacity="0.70"/><circle cx="97.7" cy="65.3" r="1.0" fill-opacity="0.79"/><circle cx="109.8" cy="65.0" r="1.1" fill-opacity="0.63"/><circle cx="118.6" cy="67.3" r="1.5" fill-opacity="0.82"/><circle cx="123.2" cy="68.3" r="1.4" fill-opacity="0.67"/><circle cx="132.0" cy="69.1" r="1.4" fill-opacity="0.60"/><circle cx="143.1" cy="65.4" r="0.9" fill-opacity="0.74"/><circle cx="152.6" cy="67.4" r="1.2" fill-opacity="0.72"/><circle cx="161.2" cy="65.6" r="1.4" fill-opacity="0.86"/><circle cx="166.2" cy="69.0" r="1.7" fill-opacity="0.81"/><circle cx="178.0" cy="65.9" r="1.7" fill-opacity="0.67"/><circle cx="186.4" cy="65.5" r="1.4" fill-opacity="0.61"/><circle cx="195.0" cy="64.0" r="1.4" fill-opacity="0.87"/><circle cx="201.1" cy="67.9" r="1.0" fill-opacity="0.76"/><circle cx="209.8" cy="66.4" r="1.7" fill-opacity="0.66"/><circle cx="221.0" cy="67.1" r="1.4" fill-opacity="0.87"/><circle cx="228.9" cy="68.5" r="1.7" fill-opacity="0.91"/><circle cx="238.0" cy="68.0" r="1.5" fill-opacity="0.90"/><circle cx="246.1" cy="68.8" r="1.4" fill-opacity="0.84"/><circle cx="254.5" cy="66.0" r="1.1" fill-opacity="0.97"/><circle cx="35.1" cy="76.6" r="1.4" fill-opacity="0.89"/><circle cx="42.6" cy="72.8" r="1.2" fill-opacity="0.91"/><circle cx="52.5" cy="74.4" r="1.7" fill-opacity="0.80"/><circle cx="63.3" cy="77.2" r="1.2" fill-opacity="0.83"/><circle cx="69.7" cy="74.7" r="1.0" fill-opacity="0.65"/><circle cx="81.9" cy="74.2" r="1.1" fill-opacity="0.66"/><circle cx="87.7" cy="71.6" r="1.7" fill-opacity="0.61"/><circle cx="94.9" cy="73.8" r="1.0" fill-opacity="0.71"/><circle cx="108.0" cy="72.8" r="1.0" fill-opacity="0.73"/><circle cx="112.7" cy="74.6" r="1.3" fill-opacity="0.93"/><circle cx="124.1" cy="73.6" r="1.3" fill-opacity="0.66"/><circle cx="133.5" cy="77.2" r="1.7" fill-opacity="0.91"/><circle cx="139.8" cy="76.7" r="1.7" fill-opacity="0.68"/><circle cx="146.4" cy="75.6" r="1.0" fill-opacity="0.77"/><circle cx="154.5" cy="76.2" r="1.0" fill-opacity="0.61"/><circle cx="163.9" cy="72.5" r="1.4" fill-opacity="0.62"/><circle cx="174.0" cy="71.5" r="1.5" fill-opacity="0.91"/><circle cx="179.8" cy="76.8" r="1.6" fill-opacity="0.71"/><circle cx="188.6" cy="74.3" r="1.5" fill-opacity="0.74"/><circle cx="199.4" cy="74.3" r="1.5" fill-opacity="0.63"/><circle cx="205.6" cy="76.1" r="1.3" fill-opacity="0.73"/><circle cx="213.1" cy="75.3" r="1.5" fill-opacity="0.67"/><circle cx="221.7" cy="74.3" r="1.5" fill-opacity="0.95"/><circle cx="230.8" cy="76.7" r="1.3" fill-opacity="0.63"/><circle cx="239.7" cy="77.1" r="1.2" fill-opacity="0.73"/><circle cx="254.3" cy="76.9" r="1.7" fill-opacity="0.86"/><circle cx="39.2" cy="82.2" r="1.5" fill-opacity="0.87"/><circle cx="47.3" cy="80.3" r="1.1" fill-opacity="0.82"/><circle cx="57.8" cy="80.7" r="1.4" fill-opacity="0.91"/><circle cx="67.8" cy="82.6" r="1.5" fill-opacity="0.99"/><circle cx="71.2" cy="83.5" r="1.6" fill-opacity="0.98"/><circle cx="84.1" cy="82.0" r="1.7" fill-opacity="0.90"/><circle cx="88.9" cy="83.3" r="1.6" fill-opacity="0.91"/><circle cx="103.8" cy="84.6" r="1.3" fill-opacity="0.60"/><circle cx="109.6" cy="80.7" r="1.2" fill-opacity="0.93"/><circle cx="114.4" cy="83.9" r="1.4" fill-opacity="0.91"/><circle cx="129.8" cy="81.9" r="1.2" fill-opacity="0.63"/><circle cx="131.3" cy="79.1" r="1.1" fill-opacity="0.73"/><circle cx="143.6" cy="82.3" r="0.9" fill-opacity="0.90"/><circle cx="150.3" cy="84.3" r="1.4" fill-opacity="0.83"/><circle cx="163.7" cy="84.2" r="1.0" fill-opacity="0.99"/><circle cx="171.4" cy="79.4" r="0.9" fill-opacity="0.76"/><circle cx="179.8" cy="83.2" r="1.5" fill-opacity="0.62"/><circle cx="189.2" cy="83.6" r="1.2" fill-opacity="0.88"/><circle cx="194.2" cy="81.1" r="1.1" fill-opacity="0.69"/><circle cx="200.1" cy="83.0" r="1.6" fill-opacity="0.71"/><circle cx="212.5" cy="84.1" r="1.6" fill-opacity="0.95"/><circle cx="222.8" cy="81.3" r="1.2" fill-opacity="0.75"/><circle cx="231.6" cy="80.5" r="1.5" fill-opacity="0.86"/><circle cx="241.6" cy="80.9" r="1.3" fill-opacity="0.89"/><circle cx="247.8" cy="80.2" r="1.2" fill-opacity="0.75"/><circle cx="258.8" cy="79.5" r="0.9" fill-opacity="0.86"/><circle cx="36.9" cy="90.0" r="1.3" fill-opacity="0.72"/><circle cx="42.2" cy="92.6" r="1.5" fill-opacity="0.70"/><circle cx="53.1" cy="87.5" r="1.4" fill-opacity="0.60"/><circle cx="64.6" cy="90.3" r="1.4" fill-opacity="0.76"/><circle cx="70.1" cy="87.5" r="1.3" fill-opacity="0.78"/><circle cx="79.3" cy="88.1" r="1.2" fill-opacity="0.83"/><circle cx="91.0" cy="86.3" r="1.2" fill-opacity="0.85"/><circle cx="93.2" cy="88.8" r="1.8" fill-opacity="0.78"/><circle cx="107.1" cy="87.6" r="1.5" fill-opacity="0.91"/><circle cx="114.6" cy="91.7" r="1.1" fill-opacity="0.78"/><circle cx="119.5" cy="87.8" r="1.6" fill-opacity="0.71"/><circle cx="127.4" cy="91.8" r="1.3" fill-opacity="0.93"/><circle cx="135.8" cy="87.0" r="1.2" fill-opacity="0.95"/><circle cx="150.2" cy="89.8" r="1.4" fill-opacity="0.88"/><circle cx="154.6" cy="89.2" r="1.0" fill-opacity="0.76"/><circle cx="165.9" cy="90.2" r="1.1" fill-opacity="0.69"/><circle cx="176.9" cy="88.0" r="1.1" fill-opacity="0.79"/><circle cx="185.0" cy="92.6" r="0.9" fill-opacity="0.84"/><circle cx="187.8" cy="92.2" r="0.9" fill-opacity="0.92"/><circle cx="198.2" cy="92.1" r="1.6" fill-opacity="0.72"/><circle cx="205.2" cy="91.9" r="0.9" fill-opacity="0.61"/><circle cx="219.2" cy="90.7" r="1.6" fill-opacity="0.85"/><circle cx="227.5" cy="90.9" r="1.5" fill-opacity="0.62"/><circle cx="230.7" cy="91.3" r="1.3" fill-opacity="0.82"/><circle cx="240.3" cy="90.6" r="1.0" fill-opacity="0.76"/><circle cx="251.8" cy="92.3" r="1.8" fill-opacity="0.82"/><circle cx="39.5" cy="99.8" r="1.3" fill-opacity="0.92"/><circle cx="46.3" cy="98.2" r="0.9" fill-opacity="0.70"/><circle cx="59.7" cy="98.5" r="1.8" fill-opacity="0.82"/><circle cx="66.3" cy="98.8" r="1.3" fill-opacity="0.63"/><circle cx="75.5" cy="95.7" r="1.0" fill-opacity="0.63"/><circle cx="84.1" cy="95.4" r="1.6" fill-opacity="0.72"/><circle cx="91.6" cy="97.4" r="1.6" fill-opacity="0.66"/><circle cx="99.0" cy="98.4" r="1.3" fill-opacity="0.87"/><circle cx="105.8" cy="96.4" r="1.5" fill-opacity="0.85"/><circle cx="114.1" cy="99.9" r="1.5" fill-opacity="0.78"/><circle cx="123.5" cy="97.4" r="1.4" fill-opacity="0.85"/><circle cx="134.8" cy="98.5" r="1.2" fill-opacity="0.75"/><circle cx="140.0" cy="95.3" r="1.4" fill-opacity="0.83"/><circle cx="150.7" cy="99.6" r="1.8" fill-opacity="0.65"/><circle cx="157.6" cy="94.5" r="0.9" fill-opacity="0.70"/><circle cx="172.5" cy="95.9" r="1.6" fill-opacity="0.86"/><circle cx="175.5" cy="99.8" r="1.4" fill-opacity="0.75"/><circle cx="185.4" cy="94.9" r="1.2" fill-opacity="0.64"/><circle cx="194.9" cy="95.7" r="1.6" fill-opacity="0.81"/><circle cx="206.6" cy="97.3" r="1.3" fill-opacity="0.73"/><circle cx="214.4" cy="97.1" r="1.1" fill-opacity="0.68"/><circle cx="222.1" cy="94.8" r="0.9" fill-opacity="0.70"/><circle cx="228.6" cy="97.2" r="1.4" fill-opacity="0.91"/><circle cx="239.6" cy="95.0" r="1.3" fill-opacity="0.83"/><circle cx="249.7" cy="96.1" r="1.0" fill-opacity="0.79"/><circle cx="252.1" cy="94.1" r="1.3" fill-opacity="0.60"/><circle cx="37.3" cy="107.5" r="1.4" fill-opacity="0.81"/><circle cx="43.3" cy="106.9" r="1.0" fill-opacity="0.92"/><circle cx="55.2" cy="106.6" r="1.8" fill-opacity="0.61"/><circle cx="63.9" cy="101.7" r="0.9" fill-opacity="0.65"/><circle cx="68.0" cy="104.4" r="1.2" fill-opacity="0.71"/><circle cx="78.1" cy="104.4" r="1.3" fill-opacity="0.71"/><circle cx="85.1" cy="106.5" r="0.9" fill-opacity="0.69"/><circle cx="95.6" cy="104.0" r="1.8" fill-opacity="0.91"/><circle cx="103.7" cy="102.5" r="1.2" fill-opacity="0.82"/><circle cx="114.1" cy="105.0" r="0.9" fill-opacity="0.90"/><circle cx="119.0" cy="106.4" r="1.3" fill-opacity="0.77"/><circle cx="128.8" cy="106.0" r="1.8" fill-opacity="0.64"/><circle cx="137.7" cy="103.5" r="1.3" fill-opacity="0.96"/><circle cx="148.9" cy="102.2" r="1.2" fill-opacity="0.79"/><circle cx="157.1" cy="103.0" r="1.5" fill-opacity="0.88"/><circle cx="167.4" cy="103.9" r="1.0" fill-opacity="0.67"/><circle cx="172.0" cy="104.5" r="1.5" fill-opacity="0.70"/><circle cx="183.7" cy="101.2" r="0.9" fill-opacity="0.84"/><circle cx="194.0" cy="102.0" r="1.0" fill-opacity="0.74"/><circle cx="200.4" cy="107.4" r="1.8" fill-opacity="0.68"/><circle cx="210.9" cy="105.5" r="1.4" fill-opacity="0.84"/><circle cx="216.9" cy="105.6" r="1.2" fill-opacity="0.75"/><circle cx="226.9" cy="103.9" r="1.4" fill-opacity="0.79"/><circle cx="233.4" cy="105.9" r="1.8" fill-opacity="0.78"/><circle cx="244.7" cy="101.9" r="1.0" fill-opacity="0.62"/><circle cx="252.7" cy="101.2" r="0.9" fill-opacity="0.94"/><circle cx="40.8" cy="110.1" r="1.4" fill-opacity="0.76"/><circle cx="50.2" cy="114.1" r="1.8" fill-opacity="0.97"/><circle cx="54.8" cy="113.6" r="1.3" fill-opacity="0.89"/><circle cx="68.9" cy="111.3" r="1.5" fill-opacity="0.88"/><circle cx="78.3" cy="113.4" r="1.0" fill-opacity="0.90"/><circle cx="86.8" cy="113.9" r="1.6" fill-opacity="0.91"/><circle cx="91.4" cy="108.8" r="1.3" fill-opacity="0.65"/><circle cx="101.8" cy="112.2" r="1.8" fill-opacity="0.88"/><circle cx="111.8" cy="111.7" r="1.8" fill-opacity="0.63"/><circle cx="118.6" cy="112.8" r="0.9" fill-opacity="0.72"/><circle cx="123.7" cy="111.0" r="1.2" fill-opacity="0.94"/><circle cx="133.1" cy="113.9" r="1.0" fill-opacity="0.94"/><circle cx="146.7" cy="112.0" r="0.9" fill-opacity="0.98"/><circle cx="151.3" cy="112.5" r="0.9" fill-opacity="1.00"/><circle cx="159.6" cy="110.1" r="1.5" fill-opacity="0.63"/><circle cx="168.6" cy="109.9" r="1.2" fill-opacity="0.75"/><circle cx="174.6" cy="109.0" r="1.4" fill-opacity="0.64"/><circle cx="185.5" cy="111.3" r="1.5" fill-opacity="0.87"/><circle cx="195.8" cy="114.8" r="1.5" fill-opacity="0.98"/><circle cx="202.2" cy="109.1" r="1.8" fill-opacity="0.82"/><circle cx="210.5" cy="112.4" r="1.2" fill-opacity="0.83"/><circle cx="222.7" cy="114.8" r="1.8" fill-opacity="0.93"/><circle cx="226.0" cy="109.8" r="1.5" fill-opacity="0.75"/><circle cx="236.6" cy="111.0" r="1.2" fill-opacity="0.96"/><circle cx="243.6" cy="109.8" r="1.4" fill-opacity="0.69"/><circle cx="256.7" cy="110.2" r="0.9" fill-opacity="0.85"/><circle cx="36.3" cy="116.8" r="1.3" fill-opacity="0.84"/><circle cx="41.8" cy="121.8" r="1.3" fill-opacity="0.80"/><circle cx="53.4" cy="116.5" r="1.0" fill-opacity="0.61"/><circle cx="65.0" cy="120.3" r="1.6" fill-opacity="0.87"/><circle cx="69.4" cy="118.7" r="1.5" fill-opacity="0.62"/><circle cx="76.3" cy="117.8" r="1.2" fill-opacity="0.67"/><circle cx="85.9" cy="120.5" r="1.6" fill-opacity="0.70"/><circle cx="97.1" cy="122.2" r="1.3" fill-opacity="0.85"/><circle cx="101.4" cy="118.0" r="1.8" fill-opacity="0.68"/><circle cx="113.1" cy="118.5" r="1.4" fill-opacity="0.99"/><circle cx="120.0" cy="118.4" r="1.2" fill-opacity="0.63"/><circle cx="130.1" cy="116.7" r="1.2" fill-opacity="1.00"/><circle cx="136.9" cy="118.0" r="1.1" fill-opacity="0.78"/><circle cx="151.3" cy="117.3" r="1.4" fill-opacity="0.83"/><circle cx="153.1" cy="120.4" r="1.0" fill-opacity="0.74"/><circle cx="165.9" cy="116.9" r="1.3" fill-opacity="0.63"/><circle cx="171.3" cy="117.6" r="1.5" fill-opacity="0.64"/><circle cx="178.9" cy="117.4" r="1.6" fill-opacity="0.84"/><circle cx="189.2" cy="120.2" r="1.6" fill-opacity="0.78"/><circle cx="198.1" cy="119.6" r="1.2" fill-opacity="0.84"/><circle cx="207.6" cy="120.5" r="1.2" fill-opacity="0.69"/><circle cx="216.4" cy="119.3" r="1.0" fill-opacity="0.83"/><circle cx="221.8" cy="117.3" r="1.8" fill-opacity="0.93"/><circle cx="234.1" cy="118.1" r="1.2" fill-opacity="0.89"/><circle cx="241.3" cy="120.3" r="1.1" fill-opacity="0.70"/><circle cx="250.7" cy="121.8" r="1.1" fill-opacity="0.88"/><circle cx="38.3" cy="123.7" r="1.3" fill-opacity="0.72"/><circle cx="45.6" cy="128.9" r="1.4" fill-opacity="0.73"/><circle cx="58.8" cy="127.6" r="1.4" fill-opacity="0.65"/><circle cx="65.1" cy="127.1" r="1.4" fill-opacity="0.96"/><circle cx="73.6" cy="124.6" r="1.5" fill-opacity="0.79"/><circle cx="86.1" cy="126.0" r="1.1" fill-opacity="0.67"/><circle cx="93.6" cy="128.0" r="1.8" fill-opacity="0.62"/><circle cx="98.1" cy="129.7" r="1.4" fill-opacity="0.69"/><circle cx="112.5" cy="128.7" r="1.4" fill-opacity="0.92"/><circle cx="114.6" cy="124.6" r="1.4" fill-opacity="0.89"/><circle cx="124.7" cy="123.7" r="1.5" fill-opacity="0.93"/><circle cx="138.2" cy="128.3" r="1.2" fill-opacity="0.84"/><circle cx="141.5" cy="127.0" r="1.3" fill-opacity="0.98"/><circle cx="154.9" cy="128.4" r="1.8" fill-opacity="0.68"/><circle cx="161.5" cy="129.2" r="1.8" fill-opacity="0.64"/><circle cx="166.7" cy="129.5" r="1.5" fill-opacity="0.81"/><circle cx="176.3" cy="127.7" r="1.0" fill-opacity="0.69"/><circle cx="187.6" cy="124.5" r="1.6" fill-opacity="0.64"/><circle cx="193.2" cy="129.9" r="1.3" fill-opacity="0.82"/><circle cx="201.4" cy="125.1" r="1.3" fill-opacity="0.95"/><circle cx="210.1" cy="128.0" r="1.0" fill-opacity="0.98"/><circle cx="220.9" cy="128.1" r="1.6" fill-opacity="0.65"/><circle cx="226.1" cy="123.7" r="1.2" fill-opacity="0.75"/><circle cx="241.5" cy="129.1" r="1.6" fill-opacity="0.96"/><circle cx="247.9" cy="128.6" r="1.5" fill-opacity="0.86"/><circle cx="253.6" cy="127.8" r="1.6" fill-opacity="0.75"/><circle cx="37.4" cy="136.3" r="1.6" fill-opacity="0.79"/><circle cx="47.1" cy="132.9" r="1.5" fill-opacity="0.84"/><circle cx="51.5" cy="132.7" r="1.8" fill-opacity="0.75"/><circle cx="62.6" cy="131.9" r="1.8" fill-opacity="0.70"/><circle cx="68.9" cy="132.1" r="1.0" fill-opacity="0.94"/><circle cx="81.9" cy="136.6" r="1.9" fill-opacity="0.70"/><circle cx="86.3" cy="132.6" r="1.0" fill-opacity="0.98"/><circle cx="96.2" cy="132.9" r="1.4" fill-opacity="1.00"/><circle cx="104.4" cy="135.0" r="1.6" fill-opacity="0.93"/><circle cx="116.2" cy="134.4" r="1.7" fill-opacity="0.64"/><circle cx="118.6" cy="132.1" r="1.6" fill-opacity="0.95"/><circle cx="129.6" cy="134.6" r="1.3" fill-opacity="0.81"/><circle cx="140.8" cy="132.2" r="1.2" fill-opacity="0.78"/><circle cx="150.8" cy="136.0" r="1.1" fill-opacity="0.78"/><circle cx="154.9" cy="132.9" r="1.8" fill-opacity="0.71"/><circle cx="164.6" cy="132.2" r="1.0" fill-opacity="0.64"/><circle cx="171.5" cy="136.7" r="1.5" fill-opacity="0.91"/><circle cx="180.4" cy="134.4" r="1.0" fill-opacity="0.81"/><circle cx="193.0" cy="132.1" r="1.3" fill-opacity="0.61"/><circle cx="198.2" cy="135.0" r="1.1" fill-opacity="0.62"/><circle cx="207.6" cy="136.5" r="1.4" fill-opacity="0.79"/><circle cx="214.5" cy="133.5" r="1.8" fill-opacity="0.63"/><circle cx="227.7" cy="136.2" r="1.7" fill-opacity="0.78"/><circle cx="233.5" cy="137.0" r="1.5" fill-opacity="0.74"/><circle cx="242.2" cy="135.4" r="1.8" fill-opacity="0.80"/><circle cx="248.1" cy="133.2" r="1.5" fill-opacity="0.84"/><circle cx="37.9" cy="143.5" r="1.4" fill-opacity="0.93"/><circle cx="45.5" cy="142.7" r="1.7" fill-opacity="0.79"/><circle cx="56.7" cy="141.2" r="1.2" fill-opacity="0.62"/><circle cx="68.4" cy="140.5" r="1.5" fill-opacity="0.91"/><circle cx="75.4" cy="139.7" r="1.3" fill-opacity="0.70"/><circle cx="85.2" cy="140.0" r="1.0" fill-opacity="0.80"/><circle cx="94.3" cy="142.0" r="1.1" fill-opacity="0.60"/><circle cx="100.5" cy="138.8" r="1.9" fill-opacity="0.91"/><circle cx="111.8" cy="138.6" r="1.7" fill-opacity="0.82"/><circle cx="114.3" cy="138.9" r="1.7" fill-opacity="0.64"/><circle cx="122.8" cy="143.7" r="1.1" fill-opacity="0.88"/><circle cx="134.3" cy="143.4" r="1.5" fill-opacity="0.80"/><circle cx="144.9" cy="138.9" r="1.3" fill-opacity="0.75"/><circle cx="150.2" cy="143.9" r="1.4" fill-opacity="0.88"/><circle cx="158.0" cy="141.3" r="1.5" fill-opacity="0.86"/><circle cx="172.4" cy="144.7" r="1.7" fill-opacity="0.70"/><circle cx="177.4" cy="138.8" r="1.9" fill-opacity="0.64"/><circle cx="185.3" cy="144.2" r="1.3" fill-opacity="0.93"/><circle cx="191.9" cy="138.6" r="1.0" fill-opacity="0.83"/><circle cx="206.1" cy="143.9" r="1.6" fill-opacity="0.83"/><circle cx="214.9" cy="141.7" r="1.6" fill-opacity="0.83"/><circle cx="219.5" cy="138.6" r="1.0" fill-opacity="0.64"/><circle cx="227.2" cy="140.7" r="1.5" fill-opacity="0.72"/><circle cx="235.4" cy="141.5" r="1.2" fill-opacity="0.73"/><circle cx="248.9" cy="139.8" r="1.4" fill-opacity="0.77"/><circle cx="252.6" cy="143.0" r="1.1" fill-opacity="0.92"/><circle cx="32.7" cy="148.5" r="1.7" fill-opacity="0.93"/><circle cx="43.5" cy="148.6" r="1.9" fill-opacity="0.64"/><circle cx="51.7" cy="150.2" r="1.4" fill-opacity="0.83"/><circle cx="58.3" cy="146.9" r="1.6" fill-opacity="0.69"/><circle cx="69.3" cy="147.0" r="1.7" fill-opacity="0.76"/><circle cx="78.1" cy="149.0" r="1.1" fill-opacity="0.97"/><circle cx="87.4" cy="150.9" r="1.0" fill-opacity="0.72"/><circle cx="96.5" cy="146.3" r="1.4" fill-opacity="0.86"/><circle cx="106.9" cy="149.5" r="1.9" fill-opacity="0.98"/><circle cx="113.5" cy="146.2" r="1.0" fill-opacity="0.95"/><circle cx="123.4" cy="148.5" r="1.6" fill-opacity="0.78"/><circle cx="130.8" cy="148.7" r="1.9" fill-opacity="0.69"/><circle cx="136.3" cy="151.1" r="1.6" fill-opacity="0.83"/><circle cx="151.3" cy="151.9" r="1.6" fill-opacity="0.71"/><circle cx="154.8" cy="150.1" r="1.3" fill-opacity="0.73"/><circle cx="164.2" cy="147.9" r="1.1" fill-opacity="0.66"/><circle cx="175.7" cy="148.4" r="1.7" fill-opacity="0.86"/><circle cx="184.3" cy="148.0" r="1.2" fill-opacity="0.87"/><circle cx="187.3" cy="151.0" r="1.5" fill-opacity="0.96"/><circle cx="197.4" cy="151.9" r="1.1" fill-opacity="0.94"/><circle cx="206.7" cy="148.3" r="1.4" fill-opacity="0.65"/><circle cx="215.2" cy="148.7" r="1.4" fill-opacity="0.88"/><circle cx="228.6" cy="151.4" r="1.6" fill-opacity="0.69"/><circle cx="232.4" cy="150.6" r="1.3" fill-opacity="0.99"/><circle cx="244.4" cy="151.9" r="1.4" fill-opacity="0.98"/><circle cx="248.3" cy="147.3" r="1.7" fill-opacity="0.70"/><circle cx="38.4" cy="155.5" r="1.4" fill-opacity="0.83"/><circle cx="49.2" cy="153.3" r="1.3" fill-opacity="0.81"/><circle cx="54.5" cy="156.2" r="1.0" fill-opacity="0.60"/><circle cx="68.9" cy="158.3" r="1.1" fill-opacity="0.73"/><circle cx="75.1" cy="158.5" r="1.6" fill-opacity="0.69"/><circle cx="80.7" cy="157.7" r="1.7" fill-opacity="0.61"/><circle cx="89.2" cy="155.3" r="1.0" fill-opacity="0.88"/><circle cx="97.5" cy="159.0" r="1.7" fill-opacity="0.93"/><circle cx="111.8" cy="157.2" r="1.7" fill-opacity="0.94"/><circle cx="120.6" cy="159.1" r="1.6" fill-opacity="0.83"/><circle cx="128.0" cy="155.2" r="1.4" fill-opacity="0.64"/><circle cx="132.5" cy="155.5" r="1.0" fill-opacity="0.82"/><circle cx="142.6" cy="154.9" r="1.3" fill-opacity="0.84"/><circle cx="154.6" cy="159.7" r="1.0" fill-opacity="0.99"/><circle cx="162.7" cy="153.5" r="1.5" fill-opacity="0.88"/><circle cx="167.9" cy="158.5" r="1.5" fill-opacity="0.84"/><circle cx="176.7" cy="154.2" r="1.1" fill-opacity="0.74"/><circle cx="189.9" cy="155.2" r="1.2" fill-opacity="0.65"/><circle cx="192.8" cy="158.1" r="1.6" fill-opacity="0.94"/><circle cx="200.5" cy="155.4" r="1.2" fill-opacity="0.94"/><circle cx="212.9" cy="155.6" r="1.9" fill-opacity="0.91"/><circle cx="223.9" cy="156.9" r="1.3" fill-opacity="0.89"/><circle cx="232.2" cy="158.4" r="1.2" fill-opacity="0.73"/><circle cx="237.2" cy="159.0" r="1.2" fill-opacity="0.83"/><circle cx="250.1" cy="157.9" r="1.6" fill-opacity="0.61"/><circle cx="253.3" cy="153.9" r="1.0" fill-opacity="0.62"/><circle cx="36.3" cy="163.1" r="1.2" fill-opacity="0.65"/><circle cx="46.0" cy="160.8" r="1.4" fill-opacity="0.67"/><circle cx="50.5" cy="165.3" r="1.6" fill-opacity="0.61"/><circle cx="64.6" cy="163.4" r="1.4" fill-opacity="0.72"/><circle cx="73.2" cy="162.4" r="1.9" fill-opacity="0.74"/><circle cx="75.9" cy="166.3" r="1.5" fill-opacity="0.92"/><circle cx="88.4" cy="163.4" r="1.2" fill-opacity="0.66"/><circle cx="98.6" cy="162.0" r="1.0" fill-opacity="0.83"/><circle cx="106.6" cy="163.2" r="1.1" fill-opacity="0.77"/><circle cx="116.1" cy="164.1" r="1.9" fill-opacity="0.70"/><circle cx="124.5" cy="165.4" r="1.5" fill-opacity="0.85"/><circle cx="131.4" cy="163.3" r="1.3" fill-opacity="0.93"/><circle cx="141.2" cy="166.8" r="1.6" fill-opacity="0.94"/><circle cx="147.3" cy="162.8" r="1.0" fill-opacity="0.94"/><circle cx="154.3" cy="161.0" r="1.0" fill-opacity="0.89"/><circle cx="164.1" cy="166.0" r="1.4" fill-opacity="0.72"/><circle cx="172.9" cy="164.9" r="1.1" fill-opacity="0.91"/><circle cx="181.3" cy="165.9" r="1.2" fill-opacity="0.93"/><circle cx="190.1" cy="162.1" r="1.6" fill-opacity="0.63"/><circle cx="197.9" cy="165.6" r="1.7" fill-opacity="0.85"/><circle cx="209.3" cy="164.1" r="1.3" fill-opacity="0.72"/><circle cx="214.1" cy="166.1" r="1.5" fill-opacity="0.80"/><circle cx="226.2" cy="162.2" r="1.6" fill-opacity="0.91"/><circle cx="235.3" cy="161.8" r="1.7" fill-opacity="0.77"/><circle cx="239.5" cy="164.1" r="1.9" fill-opacity="0.82"/><circle cx="253.0" cy="165.3" r="1.2" fill-opacity="0.73"/><circle cx="38.5" cy="168.3" r="1.6" fill-opacity="0.88"/><circle cx="52.0" cy="168.5" r="1.2" fill-opacity="0.81"/><circle cx="57.9" cy="171.7" r="1.6" fill-opacity="1.00"/><circle cx="66.2" cy="171.8" r="1.0" fill-opacity="0.66"/><circle cx="73.0" cy="171.7" r="1.1" fill-opacity="0.80"/><circle cx="82.6" cy="171.7" r="1.3" fill-opacity="0.88"/><circle cx="92.2" cy="170.2" r="1.4" fill-opacity="0.80"/><circle cx="97.1" cy="173.0" r="1.1" fill-opacity="0.62"/><circle cx="106.8" cy="171.4" r="1.7" fill-opacity="0.87"/><circle cx="121.2" cy="172.4" r="1.7" fill-opacity="0.97"/><circle cx="126.4" cy="171.1" r="1.1" fill-opacity="0.79"/><circle cx="135.1" cy="173.4" r="1.6" fill-opacity="0.92"/><circle cx="140.5" cy="170.7" r="1.3" fill-opacity="1.00"/><circle cx="155.0" cy="170.4" r="1.2" fill-opacity="0.72"/><circle cx="158.5" cy="174.4" r="1.1" fill-opacity="0.71"/><circle cx="168.9" cy="174.0" r="1.2" fill-opacity="0.73"/><circle cx="178.2" cy="172.1" r="1.5" fill-opacity="0.82"/><circle cx="189.2" cy="171.2" r="1.4" fill-opacity="0.85"/><circle cx="192.5" cy="168.8" r="1.9" fill-opacity="0.76"/><circle cx="206.7" cy="173.2" r="1.1" fill-opacity="0.78"/><circle cx="209.2" cy="172.4" r="1.1" fill-opacity="0.74"/><circle cx="218.2" cy="172.0" r="1.7" fill-opacity="0.80"/><circle cx="230.5" cy="174.1" r="1.4" fill-opacity="0.96"/><circle cx="240.0" cy="169.6" r="1.1" fill-opacity="0.95"/><circle cx="247.8" cy="172.3" r="1.3" fill-opacity="0.81"/><circle cx="255.8" cy="172.7" r="1.1" fill-opacity="0.72"/><circle cx="38.1" cy="176.1" r="1.9" fill-opacity="0.94"/><circle cx="46.7" cy="178.2" r="1.5" fill-opacity="0.99"/><circle cx="55.6" cy="180.8" r="1.6" fill-opacity="0.96"/><circle cx="64.8" cy="180.6" r="1.3" fill-opacity="0.85"/><circle cx="69.4" cy="177.5" r="1.4" fill-opacity="0.86"/><circle cx="79.6" cy="179.4" r="1.3" fill-opacity="0.91"/><circle cx="86.6" cy="181.7" r="1.9" fill-opacity="0.76"/><circle cx="96.2" cy="181.2" r="1.9" fill-opacity="0.94"/><circle cx="102.4" cy="176.2" r="1.4" fill-opacity="0.69"/><circle cx="115.0" cy="177.2" r="1.3" fill-opacity="0.93"/><circle cx="118.8" cy="178.3" r="1.4" fill-opacity="0.95"/><circle cx="131.1" cy="181.7" r="1.5" fill-opacity="0.79"/><circle cx="136.1" cy="181.0" r="1.1" fill-opacity="0.95"/><circle cx="145.3" cy="179.9" r="1.0" fill-opacity="0.75"/><circle cx="155.0" cy="179.0" r="1.7" fill-opacity="0.73"/><circle cx="162.2" cy="180.4" r="1.3" fill-opacity="0.84"/><circle cx="174.7" cy="181.4" r="1.6" fill-opacity="0.67"/><circle cx="179.3" cy="180.8" r="1.7" fill-opacity="0.65"/><circle cx="193.1" cy="181.7" r="1.9" fill-opacity="0.68"/><circle cx="199.7" cy="176.5" r="1.9" fill-opacity="0.75"/><circle cx="207.7" cy="180.3" r="1.7" fill-opacity="0.65"/><circle cx="217.0" cy="178.1" r="1.0" fill-opacity="0.73"/><circle cx="226.4" cy="177.7" r="1.1" fill-opacity="0.65"/><circle cx="232.5" cy="177.8" r="1.0" fill-opacity="0.99"/><circle cx="242.5" cy="177.4" r="1.1" fill-opacity="0.64"/><circle cx="250.7" cy="181.4" r="1.1" fill-opacity="0.84"/><circle cx="40.0" cy="189.2" r="1.5" fill-opacity="0.79"/><circle cx="48.1" cy="188.5" r="1.5" fill-opacity="0.82"/><circle cx="58.7" cy="183.4" r="1.9" fill-opacity="0.65"/><circle cx="65.8" cy="183.4" r="1.7" fill-opacity="0.73"/><circle cx="72.9" cy="183.5" r="1.5" fill-opacity="0.66"/><circle cx="80.6" cy="183.4" r="1.4" fill-opacity="0.71"/><circle cx="89.2" cy="186.2" r="1.9" fill-opacity="0.70"/><circle cx="99.6" cy="188.4" r="1.5" fill-opacity="0.97"/><circle cx="110.1" cy="184.5" r="1.1" fill-opacity="0.86"/><circle cx="116.4" cy="185.0" r="1.3" fill-opacity="0.65"/><circle cx="124.3" cy="185.1" r="1.9" fill-opacity="0.68"/><circle cx="133.2" cy="183.3" r="1.5" fill-opacity="0.99"/><circle cx="140.2" cy="186.6" r="1.4" fill-opacity="0.89"/><circle cx="152.6" cy="187.8" r="1.7" fill-opacity="0.89"/><circle cx="161.9" cy="187.3" r="1.4" fill-opacity="0.69"/><circle cx="167.2" cy="184.2" r="1.5" fill-opacity="0.62"/><circle cx="175.6" cy="184.3" r="1.5" fill-opacity="0.79"/><circle cx="186.4" cy="185.4" r="1.6" fill-opacity="0.79"/><circle cx="191.6" cy="189.2" r="1.2" fill-opacity="0.95"/><circle cx="205.6" cy="184.2" r="1.9" fill-opacity="0.87"/><circle cx="210.6" cy="183.4" r="1.4" fill-opacity="0.68"/><circle cx="220.0" cy="184.8" r="1.7" fill-opacity="1.00"/><circle cx="230.1" cy="184.7" r="1.6" fill-opacity="0.90"/><circle cx="235.6" cy="184.0" r="1.0" fill-opacity="0.80"/><circle cx="244.8" cy="184.8" r="1.0" fill-opacity="0.67"/><circle cx="253.9" cy="184.4" r="1.2" fill-opacity="0.79"/><circle cx="37.7" cy="192.6" r="1.8" fill-opacity="0.91"/><circle cx="41.0" cy="195.7" r="1.4" fill-opacity="0.73"/><circle cx="55.4" cy="194.4" r="1.8" fill-opacity="0.95"/><circle cx="61.4" cy="191.2" r="2.0" fill-opacity="0.83"/><circle cx="70.8" cy="196.9" r="1.2" fill-opacity="0.62"/><circle cx="78.0" cy="192.8" r="1.3" fill-opacity="0.83"/><circle cx="86.6" cy="193.6" r="1.4" fill-opacity="1.00"/><circle cx="94.2" cy="193.1" r="1.4" fill-opacity="0.87"/><circle cx="107.4" cy="195.4" r="1.5" fill-opacity="0.89"/><circle cx="111.4" cy="191.9" r="2.0" fill-opacity="0.74"/><circle cx="124.6" cy="193.2" r="1.1" fill-opacity="0.71"/><circle cx="132.9" cy="194.9" r="1.4" fill-opacity="0.83"/><circle cx="138.9" cy="192.4" r="1.8" fill-opacity="0.81"/><circle cx="148.7" cy="192.3" r="1.0" fill-opacity="0.97"/><circle cx="155.1" cy="190.7" r="1.1" fill-opacity="0.86"/><circle cx="166.2" cy="193.3" r="2.0" fill-opacity="0.74"/><circle cx="173.8" cy="191.1" r="1.2" fill-opacity="0.90"/><circle cx="179.8" cy="193.5" r="1.2" fill-opacity="0.60"/><circle cx="189.1" cy="192.4" r="1.3" fill-opacity="0.75"/><circle cx="198.4" cy="192.4" r="1.2" fill-opacity="0.82"/><circle cx="211.2" cy="191.3" r="1.5" fill-opacity="0.95"/><circle cx="220.0" cy="193.1" r="1.5" fill-opacity="0.73"/><circle cx="221.9" cy="194.0" r="1.5" fill-opacity="0.84"/><circle cx="232.1" cy="191.7" r="1.0" fill-opacity="0.64"/><circle cx="245.6" cy="190.8" r="1.4" fill-opacity="0.66"/><circle cx="248.7" cy="195.6" r="1.1" fill-opacity="0.83"/><circle cx="41.9" cy="199.1" r="1.5" fill-opacity="0.99"/><circle cx="50.3" cy="199.6" r="1.0" fill-opacity="0.72"/><circle cx="60.1" cy="200.1" r="2.0" fill-opacity="0.67"/><circle cx="69.5" cy="199.0" r="2.0" fill-opacity="0.94"/><circle cx="75.9" cy="199.9" r="1.0" fill-opacity="0.80"/><circle cx="83.7" cy="200.4" r="1.2" fill-opacity="0.89"/><circle cx="88.7" cy="198.5" r="1.6" fill-opacity="0.93"/><circle cx="103.1" cy="202.1" r="1.8" fill-opacity="0.96"/><circle cx="111.3" cy="198.1" r="2.0" fill-opacity="0.93"/><circle cx="116.1" cy="202.3" r="2.0" fill-opacity="0.90"/><circle cx="123.1" cy="201.7" r="1.5" fill-opacity="0.99"/><circle cx="132.8" cy="199.8" r="1.5" fill-opacity="0.94"/><circle cx="145.2" cy="203.7" r="1.6" fill-opacity="0.68"/><circle cx="155.3" cy="198.9" r="1.7" fill-opacity="0.76"/><circle cx="161.9" cy="203.1" r="1.1" fill-opacity="0.78"/><circle cx="170.2" cy="200.3" r="1.2" fill-opacity="0.78"/><circle cx="174.9" cy="199.7" r="1.1" fill-opacity="0.92"/><circle cx="185.1" cy="200.1" r="1.7" fill-opacity="0.94"/><circle cx="195.0" cy="203.1" r="1.2" fill-opacity="0.98"/><circle cx="205.2" cy="199.2" r="1.7" fill-opacity="0.72"/><circle cx="209.4" cy="198.0" r="2.0" fill-opacity="0.81"/><circle cx="223.5" cy="201.0" r="1.0" fill-opacity="0.82"/><circle cx="230.1" cy="202.8" r="1.8" fill-opacity="0.97"/><circle cx="237.3" cy="201.8" r="1.7" fill-opacity="0.82"/><circle cx="245.6" cy="198.4" r="1.7" fill-opacity="0.61"/><circle cx="257.4" cy="203.6" r="1.8" fill-opacity="0.71"/><circle cx="35.1" cy="207.7" r="1.6" fill-opacity="0.67"/><circle cx="48.1" cy="210.3" r="1.0" fill-opacity="0.75"/><circle cx="53.3" cy="206.9" r="1.4" fill-opacity="0.81"/><circle cx="60.4" cy="209.7" r="1.4" fill-opacity="0.76"/><circle cx="67.6" cy="206.6" r="1.8" fill-opacity="0.71"/><circle cx="80.3" cy="211.6" r="1.2" fill-opacity="0.66"/><circle cx="90.0" cy="208.9" r="1.7" fill-opacity="0.74"/><circle cx="92.9" cy="205.9" r="1.4" fill-opacity="0.64"/><circle cx="107.3" cy="208.9" r="1.7" fill-opacity="0.90"/><circle cx="109.9" cy="205.8" r="1.8" fill-opacity="0.94"/><circle cx="119.3" cy="208.5" r="1.5" fill-opacity="0.79"/><circle cx="134.1" cy="209.5" r="1.4" fill-opacity="0.76"/><circle cx="138.2" cy="206.4" r="1.3" fill-opacity="0.89"/><circle cx="149.4" cy="205.7" r="1.0" fill-opacity="0.75"/><circle cx="156.2" cy="209.4" r="1.2" fill-opacity="0.69"/><circle cx="166.0" cy="205.8" r="1.0" fill-opacity="0.69"/><circle cx="171.2" cy="209.2" r="1.2" fill-opacity="0.85"/><circle cx="185.1" cy="209.7" r="1.5" fill-opacity="0.87"/><circle cx="188.9" cy="209.7" r="1.3" fill-opacity="0.84"/><circle cx="196.5" cy="208.1" r="1.6" fill-opacity="0.86"/><circle cx="205.1" cy="208.9" r="2.0" fill-opacity="0.96"/><circle cx="219.4" cy="206.9" r="1.1" fill-opacity="0.92"/><circle cx="223.6" cy="207.2" r="1.4" fill-opacity="0.97"/><circle cx="231.0" cy="210.4" r="1.2" fill-opacity="0.95"/><circle cx="238.9" cy="210.3" r="1.6" fill-opacity="0.94"/><circle cx="250.3" cy="208.6" r="1.2" fill-opacity="0.75"/></g>
</g>
<rect x="47.4" y="197.6" width="57.4" height="1.7" fill="#fff"/>
<text x="47.3" y="193.3" font-size="13.3" textLength="43.4" lengthAdjust="spacingAndGlyphs" fill="#fff" stroke="#fff" stroke-width="0.35">50 nm</text>
<text x="4" y="20.6" font-size="21.5" font-weight="bold" stroke="#000" stroke-width="0.22">a</text>
<rect x="341.0" y="15.3" width="44.5" height="185.7" fill="#dcf0fe"/>
<rect x="456.0" y="15.3" width="24.8" height="185.7" fill="#f0e3fd"/>
<polyline points="323.2,72.7 324.1,72.7 325.1,72.7 326.0,72.7 326.8,72.3 327.6,72.4 328.4,71.3 329.3,71.6 330.1,72.0 330.9,71.6 331.9,71.5 333.0,70.4 334.0,70.5 334.8,69.8 335.7,69.8 336.5,69.4 337.4,68.4 338.2,68.3 339.4,67.6 340.5,67.5 341.4,66.7 342.2,65.5 343.4,69.6 344.5,73.2 345.4,76.8 346.4,80.5 347.3,84.1 348.2,88.3 349.1,92.6 350.0,96.8 350.9,100.4 351.8,104.1 352.7,107.7 353.6,110.4 354.6,113.2 355.5,115.9 356.6,117.6 357.8,119.3 358.9,117.7 360.0,116.0 360.9,114.4 361.8,112.8 362.7,111.1 363.6,109.5 364.5,108.6 365.4,107.7 366.3,106.8 367.2,105.9 368.1,105.0 369.0,104.1 369.9,103.2 370.8,102.3 371.8,101.3 372.7,100.4 373.6,99.5 374.5,98.6 375.4,97.7 376.3,96.8 377.2,95.9 378.2,95.0 379.1,94.1 380.0,93.2 380.9,92.5 381.8,91.8 382.7,91.2 383.6,90.5 384.6,91.4 385.6,92.3 386.5,91.1 387.3,89.8 388.2,88.6 389.1,87.9 390.0,87.2 390.9,86.4 391.8,85.7 392.7,84.9 393.5,84.5 394.4,84.1 395.2,83.3 396.0,83.1 396.8,82.6 397.7,82.1 398.5,81.3 399.3,81.2 400.1,80.3 401.0,79.9 401.8,79.5 402.6,79.4 403.5,78.9 404.3,78.9 405.1,78.4 405.9,78.1 406.8,77.8 407.6,77.5 408.4,77.1 409.2,76.9 410.1,76.8 410.9,76.7 411.8,76.2 412.6,76.0 413.5,76.2 414.3,75.9 415.2,75.7 416.1,75.5 416.9,75.5 417.8,75.4 418.6,75.1 419.5,75.0 420.3,74.6 421.2,74.8 422.0,74.3 422.8,74.3 423.6,74.2 424.5,73.8 425.3,73.8 426.1,73.7 426.9,73.4 427.8,73.3 428.6,72.8 429.4,72.8 430.3,72.4 431.1,72.5 431.9,72.1 432.7,71.9 433.6,71.9 434.4,71.7 435.2,71.5 436.0,71.1 436.9,70.9 437.7,70.8 438.5,70.4 439.4,70.0 440.2,69.7 441.0,69.3 441.8,69.1 442.7,69.0 443.5,68.7 444.3,68.3 445.1,67.9 446.0,67.5 446.8,67.1 447.6,66.9 448.5,66.8 449.3,66.5 450.1,66.0 450.9,65.9 451.8,65.6 452.6,65.2 453.4,64.9 454.2,64.6 455.1,64.2 455.9,63.9 457.0,65.0 458.2,66.1 459.4,70.1 460.5,74.1 462.0,84.3 463.4,85.5 464.5,99.1 465.8,122.3 467.2,105.0 468.4,96.0 469.5,89.6 470.7,83.2 471.5,82.1 472.3,80.9 473.6,90.3 474.8,105.0 476.0,116.5 477.2,105.0 478.2,92.3 479.0,87.2 479.8,82.0 480.9,84.3 482.0,82.5 483.2,80.0 484.4,78.1 485.5,75.7 486.6,75.8 487.7,76.4 488.6,76.0 489.5,76.8 490.5,76.9 491.4,76.4 492.3,76.6 493.2,77.1 494.1,77.6 495.0,77.3 495.9,78.5 496.8,78.7 497.7,77.7 498.6,76.3 499.6,75.4 500.5,74.4 501.4,73.2 502.3,72.3 503.2,70.6 504.1,69.8 505.0,69.2 505.9,68.6 507.0,69.8 508.2,72.0 509.4,71.4 510.5,70.2 511.4,71.8 512.3,72.7 513.2,73.6 514.1,74.8 515.0,76.2 516.1,78.8 517.3,81.6 518.2,83.7 519.1,86.6 519.9,84.2 520.7,82.1 521.5,82.0 522.3,81.4 523.1,82.1 524.0,80.8 524.8,81.2 525.6,80.9 526.4,80.9 527.3,80.1 528.2,80.4 529.1,79.4 530.0,78.5 530.9,78.7 531.9,76.2 533.0,74.9 534.0,73.0" fill="none" stroke="#555" stroke-width="1.7" stroke-linejoin="round"/>
<rect x="322.7" y="13.8" width="212.09999999999997" height="188.39999999999998" fill="none" stroke="#000" stroke-width="2.0"/>
<path d="M322.8,202.2v3.5M352.2,202.2v2.2M381.5,202.2v3.5M410.9,202.2v2.2M440.3,202.2v3.5M469.6,202.2v2.2M499.0,202.2v3.5M528.4,202.2v2.2" stroke="#000" stroke-width="1.2"/>
<text x="322.8" y="216.4" font-size="11.4" font-weight="bold" text-anchor="middle" fill="#1a1a1a" stroke="none">4000</text>
<text x="381.5" y="216.4" font-size="11.4" font-weight="bold" text-anchor="middle" fill="#1a1a1a" stroke="none">3000</text>
<text x="440.3" y="216.4" font-size="11.4" font-weight="bold" text-anchor="middle" fill="#1a1a1a" stroke="none">2000</text>
<text x="499.0" y="216.4" font-size="11.4" font-weight="bold" text-anchor="middle" fill="#1a1a1a" stroke="none">1000</text>
<text x="372.6" y="235.3" font-size="12.4" fill="#1a1a1a" stroke="#1a1a1a" stroke-width="0.55">Wavenumber (cm<tspan dy="-4.5" font-size="8.5">−1</tspan><tspan dy="4.5">)</tspan></text>
<text transform="translate(313.0,102.8) rotate(-90)" font-size="11" text-anchor="middle" textLength="48" lengthAdjust="spacingAndGlyphs" fill="#1a1a1a" stroke="#1a1a1a" stroke-width="0.55">Intensity</text>
<text x="394.5" y="54.9" font-size="10.8" textLength="56.8" lengthAdjust="spacingAndGlyphs" fill="#1a1a1a" stroke="#1a1a1a" stroke-width="0.55">CdTe QDs</text>
<line x1="358.8" y1="119.5" x2="358.8" y2="157.0" stroke="#000" stroke-width="1.9"/><polygon points="358.8,165.8 355.5,156.0 358.8,156.8 362.1,156.0" fill="#000"/>
<line x1="465.2" y1="124.3" x2="454.9" y2="156.6" stroke="#000" stroke-width="1.9"/><polygon points="452.2,165.0 452.0,154.7 454.9,156.4 458.3,156.7" fill="#000"/>
<line x1="476.3" y1="121.1" x2="485.0" y2="159.4" stroke="#000" stroke-width="1.9"/><polygon points="487.0,168.0 481.6,159.2 485.0,159.2 488.0,157.7" fill="#000"/>
<text x="351.2" y="178.8" font-size="11.4" textLength="23.4" lengthAdjust="spacingAndGlyphs" fill="#1a1a1a" stroke="#1a1a1a" stroke-width="0.3">−OH</text>
<text x="435.0" y="180.4" font-size="11.0" textLength="23.6" lengthAdjust="spacingAndGlyphs" fill="#1a1a1a" stroke="#1a1a1a" stroke-width="0.6">C=O</text>
<text x="477.4" y="180.4" font-size="11.0" textLength="24.2" lengthAdjust="spacingAndGlyphs" fill="#1a1a1a" stroke="#1a1a1a" stroke-width="0.6">C−O</text>
<text x="281.7" y="20.2" font-size="21.5" font-weight="bold" stroke="#000" stroke-width="0.22">b</text>
<path d="M39.00,331.00 C39.12,331.17 39.45,332.00 39.70,332.00 C39.95,332.00 40.22,332.22 40.50,331.00 C40.78,329.78 41.12,329.03 41.40,324.70 C41.68,320.37 41.93,312.12 42.20,305.00 C42.47,297.88 42.73,288.50 43.00,282.00 C43.27,275.50 43.55,269.62 43.80,266.00 C44.05,262.38 44.25,260.88 44.50,260.30 C44.75,259.72 44.88,260.88 45.30,262.50 C45.72,264.12 46.25,266.68 47.00,270.00 C47.75,273.32 48.80,278.07 49.80,282.40 C50.80,286.73 51.93,291.42 53.00,296.00 C54.07,300.58 55.23,305.73 56.20,309.90 C57.17,314.07 57.87,316.48 58.80,321.00 C59.73,325.52 60.53,331.83 61.80,337.00 C63.07,342.17 65.07,347.75 66.40,352.00 C67.73,356.25 68.67,359.17 69.80,362.50 C70.93,365.83 72.00,368.83 73.20,372.00 C74.40,375.17 75.60,378.40 77.00,381.50 C78.40,384.60 79.93,387.68 81.60,390.60 C83.27,393.52 85.05,396.28 87.00,399.00 C88.95,401.72 91.38,404.77 93.30,406.90 C95.22,409.03 96.57,410.25 98.50,411.80 C100.43,413.35 102.73,414.92 104.90,416.20 C107.07,417.48 109.17,418.52 111.50,419.50 C113.83,420.48 116.48,421.38 118.90,422.10 C121.32,422.82 123.32,423.22 126.00,423.80 C128.68,424.38 132.17,425.10 135.00,425.60 C137.83,426.10 140.05,426.40 143.00,426.80 C145.95,427.20 149.20,427.65 152.70,428.00 C156.20,428.35 160.20,428.65 164.00,428.90 C167.80,429.15 171.83,429.33 175.50,429.50 C179.17,429.67 182.22,429.78 186.00,429.90 C189.78,430.02 194.87,430.05 198.20,430.20 C201.53,430.35 203.37,430.62 206.00,430.80 C208.63,430.98 212.67,431.22 214.00,431.30" fill="none" stroke="#41b6f4" stroke-width="1.75"/>
<path d="M73.80,260.30 C74.08,260.50 74.90,260.82 75.50,261.50 C76.10,262.18 76.57,261.98 77.40,264.40 C78.23,266.82 79.27,271.95 80.50,276.00 C81.73,280.05 83.22,284.82 84.80,288.70 C86.38,292.58 88.07,294.70 90.00,299.30 C91.93,303.90 94.62,311.70 96.40,316.30 C98.18,320.90 99.68,323.95 100.70,326.90 C101.72,329.85 101.80,330.38 102.50,334.00 C103.20,337.62 104.15,344.52 104.90,348.60 C105.65,352.68 106.22,355.38 107.00,358.50 C107.78,361.62 108.38,363.70 109.60,367.30 C110.82,370.90 112.75,376.80 114.30,380.10 C115.85,383.40 117.28,385.12 118.90,387.10 C120.52,389.08 122.15,390.38 124.00,392.00 C125.85,393.62 127.10,394.78 130.00,396.80 C132.90,398.82 137.62,402.13 141.40,404.10 C145.18,406.07 148.92,407.28 152.70,408.60 C156.48,409.92 160.30,411.05 164.10,412.00 C167.90,412.95 172.10,413.80 175.50,414.30 C178.90,414.80 182.42,414.97 184.50,415.00 C186.58,415.03 186.85,414.70 188.00,414.50 C189.15,414.30 190.32,413.82 191.40,413.80 C192.48,413.78 193.37,414.12 194.50,414.40 C195.63,414.68 196.45,414.95 198.20,415.50 C199.95,416.05 202.73,416.77 205.00,417.70 C207.27,418.63 210.67,420.53 211.80,421.10" fill="none" stroke="#4d4d4d" stroke-width="1.55"/>
<path d="M161.80,431.30 C162.83,431.28 166.10,431.30 168.00,431.20 C169.90,431.10 171.70,431.02 173.20,430.70 C174.70,430.38 175.87,429.95 177.00,429.30 C178.13,428.65 179.00,428.02 180.00,426.80 C181.00,425.58 182.05,423.88 183.00,422.00 C183.95,420.12 184.87,417.83 185.70,415.50 C186.53,413.17 187.25,410.67 188.00,408.00 C188.75,405.33 189.27,403.93 190.20,399.50 C191.13,395.07 192.77,386.10 193.60,381.40 C194.43,376.70 194.25,378.50 195.20,371.30 C196.15,364.10 197.93,349.23 199.30,338.20 C200.67,327.17 202.02,315.20 203.40,305.10 C204.78,295.00 206.50,284.12 207.60,277.60 C208.70,271.08 209.22,268.83 210.00,266.00 C210.78,263.17 211.55,260.77 212.30,260.60 C213.05,260.43 213.68,262.17 214.50,265.00 C215.32,267.83 215.97,270.92 217.20,277.60 C218.43,284.28 220.28,295.00 221.90,305.10 C223.52,315.20 225.52,327.28 226.90,338.20 C228.28,349.12 229.12,362.27 230.20,370.60 C231.28,378.93 232.37,382.70 233.40,388.20 C234.43,393.70 235.90,401.03 236.40,403.60" fill="none" stroke="#f03c3c" stroke-width="1.55"/>
<defs><linearGradient id="cuv" x1="0" y1="0" x2="0" y2="1"><stop offset="0" stop-color="#bdbcb6"/><stop offset="0.14" stop-color="#c4c3bd"/><stop offset="0.17" stop-color="#dcdcd6"/><stop offset="0.2" stop-color="#cfcfca"/><stop offset="0.45" stop-color="#cacac6"/><stop offset="0.47" stop-color="#a89a80"/><stop offset="0.5" stop-color="#a4967c"/><stop offset="0.53" stop-color="#b8b2a0"/><stop offset="1" stop-color="#a59f8a"/></linearGradient><linearGradient id="cuvh" x1="0" y1="0" x2="1" y2="0"><stop offset="0" stop-color="#7f7a6a" stop-opacity="0.55"/><stop offset="0.18" stop-color="#fff" stop-opacity="0"/><stop offset="0.82" stop-color="#fff" stop-opacity="0"/><stop offset="1" stop-color="#7f7a6a" stop-opacity="0.55"/></linearGradient><radialGradient id="blob" cx="0.5" cy="0.35" r="0.7"><stop offset="0" stop-color="#120000"/><stop offset="0.7" stop-color="#2a0000"/><stop offset="1" stop-color="#6a0000"/></radialGradient></defs>
<rect x="134" y="310" width="21.2" height="75" fill="url(#cuv)"/>
<ellipse cx="144.6" cy="334" rx="7.5" ry="9" fill="#dadad6" opacity="0.55"/>
<rect x="134" y="310" width="21.2" height="75" fill="url(#cuvh)"/>
<rect x="155.2" y="310.2" width="20" height="74.4" fill="#ff1414"/>
<rect x="156.2" y="310.4" width="2.2" height="10" fill="#4a0000"/>
<rect x="172.6" y="310.4" width="1.6" height="7" fill="#a00000"/>
<path d="M157.9,322.6 h15.6 v14.5 q-7.8,6 -15.6,0 z" fill="url(#blob)"/>
<path d="M157.9,338.2 q7.8,6 15.6,0" fill="none" stroke="#8a0000" stroke-width="1.2"/>
<rect x="108.4" y="252.8" width="77.3" height="36.6" fill="#fff" stroke="#000" stroke-width="1.6"/>
<line x1="109.6" y1="259.6" x2="131.3" y2="259.6" stroke="#41b6f4" stroke-width="1.5"/>
<text x="133.3" y="262.0" font-size="9.9" font-weight="bold" textLength="50.2" lengthAdjust="spacingAndGlyphs" fill="#111" stroke="#111" stroke-width="0.22">Absorption</text>
<line x1="109.6" y1="271.6" x2="131.3" y2="271.6" stroke="#4d4d4d" stroke-width="1.5"/>
<text x="133.3" y="273.9" font-size="9.9" font-weight="bold" textLength="45.4" lengthAdjust="spacingAndGlyphs" fill="#111" stroke="#111" stroke-width="0.22">Excitation</text>
<line x1="109.6" y1="283.5" x2="131.3" y2="283.5" stroke="#f03c3c" stroke-width="1.5"/>
<text x="133.3" y="285.9" font-size="9.9" font-weight="bold" textLength="42.3" lengthAdjust="spacingAndGlyphs" fill="#111" stroke="#111" stroke-width="0.22">Emission</text>
<rect x="39.0" y="243.7" width="211.5" height="188.90000000000003" fill="none" stroke="#000" stroke-width="2.0"/>
<path d="M38.8,432.6v3.2M65.2,432.6v2.0M91.7,432.6v3.2M118.1,432.6v2.0M144.5,432.6v3.2M170.9,432.6v2.0M197.4,432.6v3.2M223.8,432.6v2.0M250.2,432.6v3.2" stroke="#000" stroke-width="1.2"/>
<text x="38.8" y="447.0" font-size="11.3" font-weight="bold" text-anchor="middle" fill="#111" stroke="#111" stroke-width="0.22">200</text>
<text x="91.7" y="447.0" font-size="11.3" font-weight="bold" text-anchor="middle" fill="#111" stroke="#111" stroke-width="0.22">350</text>
<text x="144.5" y="447.0" font-size="11.3" font-weight="bold" text-anchor="middle" fill="#111" stroke="#111" stroke-width="0.22">500</text>
<text x="197.4" y="447.0" font-size="11.3" font-weight="bold" text-anchor="middle" fill="#111" stroke="#111" stroke-width="0.22">650</text>
<text x="250.2" y="447.0" font-size="11.3" font-weight="bold" text-anchor="middle" fill="#111" stroke="#111" stroke-width="0.22">800</text>
<text x="97.4" y="462.8" font-size="11.5" font-weight="bold" textLength="94" lengthAdjust="spacingAndGlyphs" fill="#111" stroke="#111" stroke-width="0.22">Wavelength (nm)</text>
<text transform="translate(29.3,331) rotate(-90)" font-size="11.2" font-weight="bold" text-anchor="middle" textLength="63.6" lengthAdjust="spacingAndGlyphs" fill="#111" stroke="#111" stroke-width="0.22">Absorption</text>
<text transform="translate(266.3,337.9) rotate(-90)" font-size="11.6" font-weight="bold" text-anchor="middle" textLength="111.6" lengthAdjust="spacingAndGlyphs" fill="#ff1c1c" stroke="#ff1c1c" stroke-width="0.22">Photoluminescence</text>
<text x="4.5" y="238.3" font-size="21.5" font-weight="bold" stroke="#000" stroke-width="0.22">c</text>
<polyline points="323.6,435.8 324.9,435.8 326.1,435.8 327.4,435.8 328.7,435.8 329.9,435.8 331.2,435.8 332.5,435.8 333.7,435.8 335.0,435.8 336.3,435.8 337.5,435.8 338.8,435.8 340.1,435.7 341.3,435.7 342.6,435.7 343.9,435.7 345.2,435.7 346.4,435.6 347.7,435.6 349.0,435.6 350.2,435.6 351.5,435.5 352.8,435.5 354.0,435.5 355.3,435.4 356.6,435.3 357.8,435.3 359.1,435.2 360.4,435.1 361.6,435.0 362.9,434.9 364.2,434.8 365.4,434.7 366.7,434.5 368.0,434.4 369.2,434.2 370.5,434.0 371.8,433.8 373.0,433.6 374.3,433.4 375.6,433.2 376.8,433.0 378.1,432.7 379.4,432.3 380.7,432.1 381.9,431.7 383.2,431.4 384.5,431.0 385.7,430.6 387.0,430.3 388.3,429.9 389.5,429.4 390.8,429.0 392.1,428.5 393.3,428.1 394.6,427.7 395.9,427.1 397.1,426.6 398.4,426.2 399.7,425.8 400.9,425.2 402.2,424.7 403.5,424.2 404.7,423.9 406.0,423.4 407.3,423.0 408.5,422.6 409.8,422.1 411.1,421.9 412.3,421.4 413.6,421.2 414.9,421.0 416.1,420.6 417.4,420.5 418.7,420.2 420.0,420.2 421.2,420.0 422.5,420.0 423.8,420.0 425.0,419.8 426.3,419.9 427.6,420.1 428.8,420.1 430.1,420.5 431.4,420.6 432.6,420.7 433.9,421.0 435.2,421.4 436.4,421.5 437.7,422.0 439.0,422.4 440.2,422.6 441.5,423.1 442.8,423.5 444.0,424.0 445.3,424.4 446.6,424.8 447.8,425.3 449.1,425.7 450.4,426.2 451.6,426.6 452.9,427.0 454.2,427.5 455.5,428.0 456.7,428.4 458.0,428.9 459.3,429.3 460.5,429.6 461.8,430.0 463.1,430.5 464.3,430.9 465.6,431.2 466.9,431.5 468.1,431.9 469.4,432.1 470.7,432.4 471.9,432.7 473.2,433.0 474.5,433.2 475.7,433.5 477.0,433.6 478.3,433.9 479.5,434.0 480.8,434.2 482.1,434.3 483.3,434.5 484.6,434.6 485.9,434.8 487.1,434.9 488.4,435.0 489.7,435.1 490.9,435.1 492.2,435.2 493.5,435.3 494.8,435.4 496.0,435.4 497.3,435.5 498.6,435.5 499.8,435.5 501.1,435.6 502.4,435.6 503.6,435.6 504.9,435.7 506.2,435.7 507.4,435.7 508.7,435.7" fill="none" stroke="#555555" stroke-width="1.75" stroke-linejoin="round"/>
<polyline points="323.6,435.8 324.9,435.8 326.1,435.8 327.4,435.8 328.7,435.8 329.9,435.8 331.2,435.8 332.5,435.8 333.7,435.7 335.0,435.7 336.3,435.7 337.5,435.8 338.8,435.7 340.1,435.7 341.3,435.7 342.6,435.7 343.9,435.6 345.2,435.7 346.4,435.6 347.7,435.6 349.0,435.5 350.2,435.5 351.5,435.4 352.8,435.4 354.0,435.3 355.3,435.3 356.6,435.2 357.8,435.1 359.1,435.0 360.4,434.9 361.6,434.8 362.9,434.6 364.2,434.5 365.4,434.4 366.7,434.2 368.0,434.0 369.2,433.8 370.5,433.6 371.8,433.3 373.0,433.0 374.3,432.7 375.6,432.4 376.8,432.1 378.1,431.8 379.4,431.4 380.7,431.0 381.9,430.6 383.2,430.2 384.5,429.7 385.7,429.3 387.0,428.7 388.3,428.2 389.5,427.7 390.8,427.0 392.1,426.5 393.3,425.9 394.6,425.2 395.9,424.8 397.1,424.2 398.4,423.5 399.7,422.8 400.9,422.3 402.2,421.7 403.5,421.0 404.7,420.4 406.0,419.9 407.3,419.3 408.5,418.9 409.8,418.3 411.1,418.0 412.3,417.5 413.6,417.0 414.9,416.6 416.1,416.3 417.4,416.2 418.7,415.9 420.0,415.8 421.2,415.7 422.5,415.5 423.8,415.4 425.0,415.4 426.3,415.5 427.6,415.6 428.8,415.9 430.1,416.2 431.4,416.3 432.6,416.7 433.9,417.0 435.2,417.3 436.4,417.6 437.7,418.1 439.0,418.6 440.2,418.9 441.5,419.4 442.8,420.1 444.0,420.7 445.3,421.3 446.6,421.7 447.8,422.4 449.1,422.9 450.4,423.5 451.6,424.1 452.9,424.6 454.2,425.3 455.5,425.9 456.7,426.4 458.0,427.0 459.3,427.4 460.5,428.0 461.8,428.5 463.1,429.0 464.3,429.4 465.6,429.9 466.9,430.3 468.1,430.7 469.4,431.1 470.7,431.5 471.9,431.8 473.2,432.2 474.5,432.5 475.7,432.8 477.0,433.1 478.3,433.3 479.5,433.5 480.8,433.8 482.1,434.0 483.3,434.2 484.6,434.3 485.9,434.5 487.1,434.6 488.4,434.7 489.7,434.9 490.9,434.9 492.2,435.0 493.5,435.2 494.8,435.2 496.0,435.3 497.3,435.4 498.6,435.4 499.8,435.5 501.1,435.5 502.4,435.5 503.6,435.6 504.9,435.6 506.2,435.6 507.4,435.6 508.7,435.7" fill="none" stroke="#66bb33" stroke-width="1.75" stroke-linejoin="round"/>
<polyline points="323.6,435.8 324.9,435.8 326.1,435.8 327.4,435.8 328.7,435.8 329.9,435.8 331.2,435.8 332.5,435.7 333.7,435.7 335.0,435.7 336.3,435.7 337.5,435.7 338.8,435.7 340.1,435.7 341.3,435.6 342.6,435.7 343.9,435.6 345.2,435.6 346.4,435.5 347.7,435.5 349.0,435.5 350.2,435.4 351.5,435.3 352.8,435.3 354.0,435.2 355.3,435.1 356.6,435.0 357.8,434.9 359.1,434.8 360.4,434.7 361.6,434.5 362.9,434.3 364.2,434.1 365.4,433.9 366.7,433.7 368.0,433.5 369.2,433.2 370.5,433.0 371.8,432.6 373.0,432.3 374.3,431.9 375.6,431.5 376.8,431.1 378.1,430.6 379.4,430.1 380.7,429.7 381.9,429.2 383.2,428.6 384.5,427.9 385.7,427.3 387.0,426.8 388.3,426.0 389.5,425.2 390.8,424.6 392.1,423.9 393.3,423.2 394.6,422.4 395.9,421.6 397.1,420.8 398.4,420.2 399.7,419.1 400.9,418.4 402.2,417.7 403.5,416.8 404.7,416.1 406.0,415.4 407.3,414.7 408.5,414.2 409.8,413.4 411.1,412.9 412.3,412.1 413.6,411.6 414.9,411.4 416.1,410.9 417.4,410.7 418.7,410.3 420.0,409.9 421.2,409.7 422.5,409.8 423.8,409.9 425.0,409.9 426.3,409.9 427.6,409.9 428.8,410.4 430.1,410.4 431.4,411.0 432.6,411.3 433.9,411.7 435.2,412.0 436.4,412.6 437.7,413.2 439.0,413.7 440.2,414.5 441.5,414.9 442.8,415.8 444.0,416.3 445.3,417.1 446.6,417.9 447.8,418.5 449.1,419.3 450.4,420.1 451.6,420.8 452.9,421.5 454.2,422.3 455.5,423.1 456.7,423.7 458.0,424.4 459.3,425.1 460.5,425.7 461.8,426.4 463.1,427.0 464.3,427.7 465.6,428.2 466.9,428.7 468.1,429.3 469.4,429.8 470.7,430.3 471.9,430.7 473.2,431.2 474.5,431.5 475.7,431.9 477.0,432.3 478.3,432.6 479.5,432.9 480.8,433.2 482.1,433.5 483.3,433.6 484.6,433.9 485.9,434.1 487.1,434.3 488.4,434.4 489.7,434.6 490.9,434.8 492.2,434.9 493.5,434.9 494.8,435.0 496.0,435.1 497.3,435.3 498.6,435.3 499.8,435.3 501.1,435.4 502.4,435.5 503.6,435.5 504.9,435.6 506.2,435.6 507.4,435.6 508.7,435.6" fill="none" stroke="#6699dd" stroke-width="1.75" stroke-linejoin="round"/>
<polyline points="323.6,435.8 324.9,435.8 326.1,435.8 327.4,435.8 328.7,435.8 329.9,435.7 331.2,435.7 332.5,435.7 333.7,435.8 335.0,435.8 336.3,435.7 337.5,435.7 338.8,435.7 340.1,435.7 341.3,435.6 342.6,435.6 343.9,435.6 345.2,435.5 346.4,435.5 347.7,435.4 349.0,435.3 350.2,435.3 351.5,435.2 352.8,435.1 354.0,435.1 355.3,435.0 356.6,434.8 357.8,434.7 359.1,434.6 360.4,434.3 361.6,434.1 362.9,433.9 364.2,433.7 365.4,433.4 366.7,433.2 368.0,432.8 369.2,432.5 370.5,432.1 371.8,431.7 373.0,431.3 374.3,430.8 375.6,430.3 376.8,429.8 378.1,429.2 379.4,428.6 380.7,427.9 381.9,427.2 383.2,426.5 384.5,425.8 385.7,425.0 387.0,424.2 388.3,423.3 389.5,422.6 390.8,421.6 392.1,420.6 393.3,419.8 394.6,418.7 395.9,417.6 397.1,416.6 398.4,415.8 399.7,414.5 400.9,413.6 402.2,412.7 403.5,411.6 404.7,410.7 406.0,409.8 407.3,409.0 408.5,407.8 409.8,407.2 411.1,406.4 412.3,405.7 413.6,404.9 414.9,404.8 416.1,404.0 417.4,403.5 418.7,403.4 420.0,403.0 421.2,403.0 422.5,402.8 423.8,402.7 425.0,402.9 426.3,402.9 427.6,402.7 428.8,403.2 430.1,403.5 431.4,403.7 432.6,404.4 433.9,404.7 435.2,405.4 436.4,406.0 437.7,407.1 439.0,407.6 440.2,408.3 441.5,409.4 442.8,409.9 444.0,411.1 445.3,411.9 446.6,412.9 447.8,413.8 449.1,414.7 450.4,415.8 451.6,416.5 452.9,417.6 454.2,418.5 455.5,419.4 456.7,420.4 458.0,421.3 459.3,422.1 460.5,423.0 461.8,423.9 463.1,424.6 464.3,425.5 465.6,426.2 466.9,426.9 468.1,427.6 469.4,428.2 470.7,428.7 471.9,429.4 473.2,429.8 474.5,430.4 475.7,430.9 477.0,431.2 478.3,431.7 479.5,432.2 480.8,432.4 482.1,432.8 483.3,433.1 484.6,433.3 485.9,433.6 487.1,433.8 488.4,434.0 489.7,434.2 490.9,434.4 492.2,434.5 493.5,434.7 494.8,434.8 496.0,435.0 497.3,435.1 498.6,435.2 499.8,435.3 501.1,435.4 502.4,435.4 503.6,435.5 504.9,435.5 506.2,435.5 507.4,435.6 508.7,435.6" fill="none" stroke="#ff6622" stroke-width="1.75" stroke-linejoin="round"/>
<polyline points="323.6,435.8 324.9,435.8 326.1,435.7 327.4,435.8 328.7,435.7 329.9,435.7 331.2,435.7 332.5,435.8 333.7,435.8 335.0,435.7 336.3,435.7 337.5,435.6 338.8,435.6 340.1,435.6 341.3,435.5 342.6,435.5 343.9,435.5 345.2,435.4 346.4,435.3 347.7,435.3 349.0,435.2 350.2,435.1 351.5,435.0 352.8,434.9 354.0,434.8 355.3,434.7 356.6,434.5 357.8,434.3 359.1,434.0 360.4,433.9 361.6,433.5 362.9,433.3 364.2,433.0 365.4,432.6 366.7,432.2 368.0,431.7 369.2,431.3 370.5,430.8 371.8,430.3 373.0,429.7 374.3,429.0 375.6,428.3 376.8,427.7 378.1,426.9 379.4,425.9 380.7,425.1 381.9,424.1 383.2,423.3 384.5,422.2 385.7,421.2 387.0,419.9 388.3,418.8 389.5,417.5 390.8,416.1 392.1,415.1 393.3,413.7 394.6,412.3 395.9,410.8 397.1,409.7 398.4,408.4 399.7,407.1 400.9,405.4 402.2,404.4 403.5,403.1 404.7,401.5 406.0,400.3 407.3,399.0 408.5,398.1 409.8,396.6 411.1,396.1 412.3,395.0 413.6,393.8 414.9,393.5 416.1,392.6 417.4,391.7 418.7,391.2 420.0,391.1 421.2,391.0 422.5,390.6 423.8,390.3 425.0,390.6 426.3,391.0 427.6,390.8 428.8,391.2 430.1,391.4 431.4,392.0 432.6,392.6 433.9,393.7 435.2,394.2 436.4,395.5 437.7,396.4 439.0,397.4 440.2,398.1 441.5,399.2 442.8,400.8 444.0,402.0 445.3,403.2 446.6,404.5 447.8,405.7 449.1,407.1 450.4,408.5 451.6,409.6 452.9,410.8 454.2,412.2 455.5,413.3 456.7,414.7 458.0,416.1 459.3,417.1 460.5,418.2 461.8,419.5 463.1,420.7 464.3,421.6 465.6,422.6 466.9,423.6 468.1,424.4 469.4,425.3 470.7,426.1 471.9,427.1 473.2,427.7 474.5,428.3 475.7,429.1 477.0,429.7 478.3,430.2 479.5,430.7 480.8,431.3 482.1,431.7 483.3,432.2 484.6,432.4 485.9,432.8 487.1,433.2 488.4,433.5 489.7,433.6 490.9,433.9 492.2,434.1 493.5,434.3 494.8,434.5 496.0,434.6 497.3,434.8 498.6,434.9 499.8,435.0 501.1,435.1 502.4,435.2 503.6,435.2 504.9,435.4 506.2,435.4 507.4,435.5 508.7,435.5" fill="none" stroke="#999922" stroke-width="1.75" stroke-linejoin="round"/>
<polyline points="323.6,435.7 324.9,435.7 326.1,435.7 327.4,435.7 328.7,435.7 329.9,435.7 331.2,435.7 332.5,435.7 333.7,435.7 335.0,435.7 336.3,435.7 337.5,435.6 338.8,435.5 340.1,435.6 341.3,435.6 342.6,435.5 343.9,435.4 345.2,435.4 346.4,435.2 347.7,435.3 349.0,435.2 350.2,435.1 351.5,434.9 352.8,434.7 354.0,434.7 355.3,434.5 356.6,434.3 357.8,434.0 359.1,433.7 360.4,433.6 361.6,433.3 362.9,432.9 364.2,432.6 365.4,432.2 366.7,431.6 368.0,431.2 369.2,430.7 370.5,430.2 371.8,429.5 373.0,428.9 374.3,428.0 375.6,427.3 376.8,426.4 378.1,425.5 379.4,424.6 380.7,423.7 381.9,422.4 383.2,421.3 384.5,420.3 385.7,419.0 387.0,417.5 388.3,416.4 389.5,415.1 390.8,413.7 392.1,411.9 393.3,410.4 394.6,409.1 395.9,407.5 397.1,405.9 398.4,404.5 399.7,402.5 400.9,401.1 402.2,399.9 403.5,398.5 404.7,396.7 406.0,395.3 407.3,393.6 408.5,392.4 409.8,391.2 411.1,390.3 412.3,389.3 413.6,388.1 414.9,387.3 416.1,386.0 417.4,385.6 418.7,384.9 420.0,384.1 421.2,384.4 422.5,384.0 423.8,384.3 425.0,383.8 426.3,384.7 427.6,384.2 428.8,384.6 430.1,385.2 431.4,386.4 432.6,387.0 433.9,387.4 435.2,388.9 436.4,389.6 437.7,390.7 439.0,391.4 440.2,393.0 441.5,394.1 442.8,395.8 444.0,396.8 445.3,398.5 446.6,399.6 447.8,401.6 449.1,402.7 450.4,404.5 451.6,405.8 452.9,407.3 454.2,409.0 455.5,410.1 456.7,411.8 458.0,413.2 459.3,414.7 460.5,415.9 461.8,417.1 463.1,418.3 464.3,419.6 465.6,420.7 466.9,422.0 468.1,422.9 469.4,423.9 470.7,424.7 471.9,425.6 473.2,426.5 474.5,427.5 475.7,428.1 477.0,428.7 478.3,429.5 479.5,430.0 480.8,430.6 482.1,431.2 483.3,431.5 484.6,431.9 485.9,432.4 487.1,432.7 488.4,433.1 489.7,433.4 490.9,433.6 492.2,433.9 493.5,434.1 494.8,434.3 496.0,434.5 497.3,434.7 498.6,434.8 499.8,434.9 501.1,435.1 502.4,435.1 503.6,435.2 504.9,435.3 506.2,435.4 507.4,435.4 508.7,435.5" fill="none" stroke="#7a5050" stroke-width="1.75" stroke-linejoin="round"/>
<polyline points="323.6,435.8 324.9,435.8 326.1,435.7 327.4,435.7 328.7,435.8 329.9,435.8 331.2,435.7 332.5,435.7 333.7,435.8 335.0,435.7 336.3,435.7 337.5,435.7 338.8,435.6 340.1,435.6 341.3,435.4 342.6,435.5 343.9,435.4 345.2,435.3 346.4,435.2 347.7,435.1 349.0,435.1 350.2,434.9 351.5,434.8 352.8,434.7 354.0,434.5 355.3,434.2 356.6,433.9 357.8,433.7 359.1,433.5 360.4,433.2 361.6,432.9 362.9,432.5 364.2,432.1 365.4,431.6 366.7,431.2 368.0,430.5 369.2,429.9 370.5,429.2 371.8,428.5 373.0,427.7 374.3,427.0 375.6,426.0 376.8,425.0 378.1,424.0 379.4,423.0 380.7,421.8 381.9,420.7 383.2,419.2 384.5,417.7 385.7,416.5 387.0,415.0 388.3,413.4 389.5,412.1 390.8,410.1 392.1,408.6 393.3,407.1 394.6,405.4 395.9,403.5 397.1,401.5 398.4,399.7 399.7,398.1 400.9,395.9 402.2,394.5 403.5,392.7 404.7,391.3 406.0,388.9 407.3,388.0 408.5,385.9 409.8,384.7 411.1,383.4 412.3,382.1 413.6,381.2 414.9,379.6 416.1,378.6 417.4,377.9 418.7,377.5 420.0,377.5 421.2,376.4 422.5,376.7 423.8,376.0 425.0,376.8 426.3,376.6 427.6,376.7 428.8,377.8 430.1,378.0 431.4,379.2 432.6,380.1 433.9,380.9 435.2,381.2 436.4,382.4 437.7,383.9 439.0,385.5 440.2,386.6 441.5,388.1 442.8,389.9 444.0,391.3 445.3,392.8 446.6,395.0 447.8,396.6 449.1,398.1 450.4,400.0 451.6,401.6 452.9,403.2 454.2,405.1 455.5,406.6 456.7,408.3 458.0,409.8 459.3,411.5 460.5,412.9 461.8,414.6 463.1,415.8 464.3,417.4 465.6,418.3 466.9,419.8 468.1,421.0 469.4,422.2 470.7,423.2 471.9,424.2 473.2,425.1 474.5,426.1 475.7,427.0 477.0,427.6 478.3,428.4 479.5,429.1 480.8,429.8 482.1,430.4 483.3,430.9 484.6,431.4 485.9,431.9 487.1,432.3 488.4,432.7 489.7,433.0 490.9,433.4 492.2,433.7 493.5,433.8 494.8,434.0 496.0,434.3 497.3,434.5 498.6,434.6 499.8,434.8 501.1,434.9 502.4,435.1 503.6,435.2 504.9,435.2 506.2,435.3 507.4,435.4 508.7,435.5" fill="none" stroke="#22cccc" stroke-width="1.75" stroke-linejoin="round"/>
<polyline points="323.6,435.7 324.9,435.8 326.1,435.8 327.4,435.8 328.7,435.8 329.9,435.8 331.2,435.8 332.5,435.6 333.7,435.6 335.0,435.6 336.3,435.6 337.5,435.6 338.8,435.5 340.1,435.5 341.3,435.4 342.6,435.4 343.9,435.2 345.2,435.3 346.4,435.1 347.7,435.1 349.0,434.9 350.2,434.6 351.5,434.7 352.8,434.4 354.0,434.2 355.3,434.0 356.6,433.8 357.8,433.3 359.1,433.0 360.4,432.7 361.6,432.3 362.9,431.8 364.2,431.4 365.4,430.8 366.7,430.0 368.0,429.5 369.2,428.7 370.5,427.8 371.8,426.9 373.0,426.1 374.3,425.2 375.6,424.1 376.8,422.7 378.1,421.5 379.4,420.5 380.7,418.8 381.9,417.5 383.2,415.9 384.5,414.4 385.7,412.4 387.0,410.5 388.3,409.1 389.5,407.0 390.8,405.3 392.1,402.8 393.3,401.3 394.6,399.2 395.9,396.6 397.1,394.7 398.4,392.1 399.7,390.0 400.9,387.9 402.2,386.3 403.5,383.7 404.7,381.4 406.0,379.9 407.3,378.3 408.5,376.4 409.8,374.5 411.1,372.5 412.3,371.5 413.6,370.1 414.9,368.8 416.1,367.2 417.4,366.1 418.7,365.9 420.0,364.9 421.2,364.2 422.5,364.3 423.8,364.6 425.0,364.6 426.3,364.1 427.6,364.8 428.8,365.8 430.1,366.1 431.4,367.6 432.6,367.6 433.9,369.4 435.2,370.5 436.4,371.9 437.7,373.9 439.0,375.0 440.2,377.0 441.5,378.8 442.8,380.1 444.0,382.7 445.3,384.5 446.6,386.0 447.8,388.5 449.1,390.5 450.4,392.4 451.6,394.7 452.9,396.3 454.2,398.2 455.5,400.9 456.7,402.6 458.0,404.4 459.3,406.5 460.5,408.0 461.8,410.0 463.1,411.9 464.3,413.4 465.6,414.9 466.9,416.6 468.1,417.9 469.4,419.2 470.7,420.6 471.9,421.9 473.2,422.9 474.5,424.1 475.7,425.2 477.0,426.0 478.3,427.1 479.5,427.8 480.8,428.7 482.1,429.3 483.3,430.0 484.6,430.6 485.9,431.0 487.1,431.5 488.4,432.0 489.7,432.5 490.9,432.8 492.2,433.2 493.5,433.5 494.8,433.8 496.0,434.1 497.3,434.2 498.6,434.4 499.8,434.6 501.1,434.7 502.4,434.9 503.6,435.1 504.9,435.2 506.2,435.2 507.4,435.3 508.7,435.4" fill="none" stroke="#d4a020" stroke-width="1.75" stroke-linejoin="round"/>
<polyline points="323.6,435.8 324.9,435.7 326.1,435.8 327.4,435.7 328.7,435.7 329.9,435.7 331.2,435.6 332.5,435.7 333.7,435.7 335.0,435.7 336.3,435.7 337.5,435.6 338.8,435.5 340.1,435.4 341.3,435.4 342.6,435.3 343.9,435.3 345.2,435.1 346.4,435.1 347.7,434.9 349.0,434.8 350.2,434.5 351.5,434.3 352.8,434.1 354.0,434.0 355.3,433.6 356.6,433.4 357.8,433.0 359.1,432.5 360.4,432.3 361.6,431.7 362.9,431.1 364.2,430.4 365.4,430.0 366.7,429.2 368.0,428.3 369.2,427.7 370.5,426.7 371.8,425.5 373.0,424.7 374.3,423.4 375.6,422.2 376.8,420.8 378.1,419.5 379.4,418.0 380.7,416.0 381.9,414.4 383.2,412.6 384.5,410.9 385.7,409.0 387.0,406.7 388.3,404.8 389.5,402.4 390.8,399.8 392.1,397.8 393.3,395.5 394.6,392.5 395.9,390.3 397.1,388.3 398.4,385.5 399.7,382.7 400.9,380.8 402.2,378.0 403.5,375.2 404.7,372.7 406.0,370.6 407.3,368.1 408.5,366.4 409.8,364.5 411.1,362.0 412.3,360.8 413.6,358.7 414.9,358.0 416.1,356.5 417.4,355.7 418.7,354.3 420.0,354.1 421.2,353.5 422.5,353.2 423.8,352.7 425.0,353.0 426.3,353.1 427.6,352.8 428.8,353.9 430.1,354.5 431.4,356.4 432.6,357.3 433.9,359.1 435.2,359.7 436.4,361.8 437.7,363.6 439.0,365.8 440.2,367.6 441.5,369.5 442.8,371.5 444.0,373.2 445.3,375.7 446.6,378.5 447.8,380.7 449.1,383.3 450.4,385.0 451.6,387.9 452.9,389.9 454.2,392.4 455.5,394.6 456.7,397.5 458.0,399.6 459.3,401.7 460.5,404.0 461.8,405.6 463.1,407.9 464.3,409.6 465.6,411.6 466.9,413.6 468.1,415.1 469.4,416.8 470.7,418.4 471.9,419.8 473.2,420.9 474.5,422.4 475.7,423.5 477.0,424.6 478.3,425.6 479.5,426.7 480.8,427.4 482.1,428.3 483.3,428.9 484.6,429.7 485.9,430.4 487.1,431.0 488.4,431.5 489.7,431.9 490.9,432.4 492.2,432.8 493.5,433.0 494.8,433.5 496.0,433.8 497.3,434.0 498.6,434.3 499.8,434.5 501.1,434.7 502.4,434.7 503.6,434.9 504.9,434.9 506.2,435.0 507.4,435.2 508.7,435.3" fill="none" stroke="#aa77dd" stroke-width="1.75" stroke-linejoin="round"/>
<polyline points="323.6,435.7 324.9,435.8 326.1,435.7 327.4,435.7 328.7,435.6 329.9,435.6 331.2,435.7 332.5,435.6 333.7,435.7 335.0,435.6 336.3,435.6 337.5,435.6 338.8,435.5 340.1,435.4 341.3,435.3 342.6,435.3 343.9,435.2 345.2,435.1 346.4,434.9 347.7,434.9 349.0,434.6 350.2,434.5 351.5,434.3 352.8,434.0 354.0,433.7 355.3,433.5 356.6,433.1 357.8,432.7 359.1,432.3 360.4,431.7 361.6,431.4 362.9,430.7 364.2,430.1 365.4,429.5 366.7,428.6 368.0,427.9 369.2,426.8 370.5,425.7 371.8,424.7 373.0,423.6 374.3,422.3 375.6,421.0 376.8,419.4 378.1,417.6 379.4,416.1 380.7,414.5 381.9,412.4 383.2,410.7 384.5,408.5 385.7,406.2 387.0,403.7 388.3,401.8 389.5,399.2 390.8,396.4 392.1,393.9 393.3,391.4 394.6,388.7 395.9,386.2 397.1,383.5 398.4,380.9 399.7,377.5 400.9,374.7 402.2,372.6 403.5,369.3 404.7,367.7 406.0,365.1 407.3,362.2 408.5,360.1 409.8,357.8 411.1,354.9 412.3,354.1 413.6,352.3 414.9,350.7 416.1,348.6 417.4,348.1 418.7,347.4 420.0,345.8 421.2,345.5 422.5,345.4 423.8,344.9 425.0,344.7 426.3,345.2 427.6,345.6 428.8,346.4 430.1,346.9 431.4,347.8 432.6,350.0 433.9,351.4 435.2,352.3 436.4,354.9 437.7,356.2 439.0,358.3 440.2,360.5 441.5,362.4 442.8,364.9 444.0,368.2 445.3,370.1 446.6,372.8 447.8,375.3 449.1,378.2 450.4,380.9 451.6,383.0 452.9,385.8 454.2,388.7 455.5,391.2 456.7,393.7 458.0,396.3 459.3,398.4 460.5,401.0 461.8,403.3 463.1,405.5 464.3,407.6 465.6,409.2 466.9,411.5 468.1,413.1 469.4,414.7 470.7,416.5 471.9,418.3 473.2,419.4 474.5,420.8 475.7,422.5 477.0,423.6 478.3,424.6 479.5,425.6 480.8,426.7 482.1,427.5 483.3,428.4 484.6,429.1 485.9,429.9 487.1,430.5 488.4,431.0 489.7,431.5 490.9,431.9 492.2,432.4 493.5,432.9 494.8,433.1 496.0,433.5 497.3,433.7 498.6,434.0 499.8,434.4 501.1,434.5 502.4,434.6 503.6,434.9 504.9,435.0 506.2,435.2 507.4,435.1 508.7,435.1" fill="none" stroke="#3aa86a" stroke-width="1.75" stroke-linejoin="round"/>
<polyline points="323.6,435.6 324.9,435.8 326.1,435.7 327.4,435.8 328.7,435.7 329.9,435.7 331.2,435.6 332.5,435.5 333.7,435.8 335.0,435.6 336.3,435.7 337.5,435.7 338.8,435.6 340.1,435.4 341.3,435.2 342.6,435.4 343.9,435.2 345.2,435.2 346.4,434.9 347.7,434.8 349.0,434.6 350.2,434.4 351.5,434.1 352.8,433.8 354.0,433.6 355.3,433.3 356.6,432.8 357.8,432.3 359.1,431.7 360.4,431.3 361.6,430.6 362.9,429.9 364.2,429.1 365.4,428.4 366.7,427.5 368.0,426.4 369.2,424.9 370.5,423.9 371.8,422.4 373.0,421.0 374.3,419.3 375.6,417.6 376.8,415.4 378.1,413.6 379.4,411.1 380.7,408.9 381.9,406.5 383.2,403.6 384.5,400.9 385.7,398.0 387.0,395.1 388.3,391.9 389.5,387.8 390.8,384.9 392.1,381.6 393.3,377.9 394.6,373.8 395.9,369.4 397.1,366.6 398.4,361.8 399.7,358.5 400.9,354.8 402.2,350.4 403.5,347.3 404.7,344.2 406.0,339.9 407.3,336.3 408.5,333.1 409.8,330.7 411.1,326.6 412.3,324.1 413.6,321.5 414.9,320.4 416.1,317.8 417.4,316.4 418.7,316.3 420.0,315.7 421.2,314.8 422.5,314.6 423.8,314.8 425.0,314.5 426.3,314.2 427.6,315.9 428.8,316.6 430.1,318.9 431.4,320.0 432.6,320.3 433.9,324.1 435.2,325.3 436.4,327.2 437.7,329.8 439.0,332.6 440.2,336.0 441.5,338.3 442.8,341.3 444.0,344.6 445.3,347.6 446.6,352.2 447.8,354.4 449.1,358.5 450.4,361.5 451.6,365.6 452.9,368.1 454.2,372.6 455.5,375.2 456.7,378.9 458.0,381.9 459.3,385.1" fill="none" stroke="#2266e0" stroke-width="1.75" stroke-linejoin="round"/>
<polyline points="323.6,435.7 324.9,435.6 326.1,435.8 327.4,435.7 328.7,435.8 329.9,435.8 331.2,435.5 332.5,435.7 333.7,435.8 335.0,435.6 336.3,435.4 337.5,435.6 338.8,435.3 340.1,435.3 341.3,435.2 342.6,435.3 343.9,435.2 345.2,435.0 346.4,434.8 347.7,434.6 349.0,434.5 350.2,434.1 351.5,433.8 352.8,433.5 354.0,433.0 355.3,432.4 356.6,432.2 357.8,431.4 359.1,431.0 360.4,430.1 361.6,429.6 362.9,428.3 364.2,427.6 365.4,426.3 366.7,425.5 368.0,424.0 369.2,422.4 370.5,421.1 371.8,419.3 373.0,417.2 374.3,414.9 375.6,413.1 376.8,410.9 378.1,408.2 379.4,404.9 380.7,402.7 381.9,399.1 383.2,396.1 384.5,392.4 385.7,389.1 387.0,384.9 388.3,380.6 389.5,376.5 390.8,372.5 392.1,368.2 393.3,363.6 394.6,359.7 395.9,353.9 397.1,349.4 398.4,345.0 399.7,339.9 400.9,335.6 402.2,331.0 403.5,326.7 404.7,321.4 406.0,317.1 407.3,313.0 408.5,310.1 409.8,305.0 411.1,301.9 412.3,298.3 413.6,295.3 414.9,291.9 416.1,291.5 417.4,288.8 418.7,286.0 420.0,285.5 421.2,285.8 422.5,284.4 423.8,283.8 425.0,285.8 426.3,285.5 427.6,288.6 428.8,288.1 430.1,291.3 431.4,294.3 432.6,295.6 433.9,299.0 435.2,301.7 436.4,305.5 437.7,309.4 439.0,314.1 440.2,317.3 441.5,323.5" fill="none" stroke="#f04040" stroke-width="1.75" stroke-linejoin="round"/>
<polyline points="323.6,435.6 324.9,435.7 326.1,435.8 327.4,435.6 328.7,435.7 329.9,435.7 331.2,435.5 332.5,435.8 333.7,435.7 335.0,435.5 336.3,435.7 337.5,435.4 338.8,435.2 340.1,435.3 341.3,435.3 342.6,434.9 343.9,434.8 345.2,434.6 346.4,434.5 347.7,434.2 349.0,434.0 350.2,434.0 351.5,433.5 352.8,433.3 354.0,432.9 355.3,432.2 356.6,431.4 357.8,430.8 359.1,430.4 360.4,429.6 361.6,428.6 362.9,427.3 364.2,426.3 365.4,424.9 366.7,424.0 368.0,422.0 369.2,420.8 370.5,418.7 371.8,416.5 373.0,414.4 374.3,412.5 375.6,409.5 376.8,407.0 378.1,404.4 379.4,401.0 380.7,397.7 381.9,393.8 383.2,390.4 384.5,386.0 385.7,381.7 387.0,378.0 388.3,373.5 389.5,368.0 390.8,363.4 392.1,358.9 393.3,353.8 394.6,347.1 395.9,342.3 397.1,337.3 398.4,332.2 399.7,325.2 400.9,320.3 402.2,314.8 403.5,310.4 404.7,305.3 406.0,300.1 407.3,295.9 408.5,290.1 409.8,286.3 411.1,281.3 412.3,278.6 413.6,275.1 414.9,272.0 416.1,268.1 417.4,267.6 418.7,264.8 420.0,264.9 421.2,263.0 422.5,263.5 423.8,261.8 425.0,264.0" fill="none" stroke="#5a5a5a" stroke-width="1.75" stroke-linejoin="round"/>
<rect x="323.6" y="246.9" width="211.29999999999995" height="188.9" fill="none" stroke="#000" stroke-width="2.0"/>
<path d="M323.6,435.8v3.2M344.7,435.8v2.0M365.9,435.8v3.2M387.0,435.8v2.0M408.1,435.8v3.2M429.2,435.8v2.0M450.4,435.8v3.2M471.5,435.8v2.0M492.6,435.8v3.2M513.8,435.8v2.0M534.9,435.8v3.2M323.6,435.8h-3.2M323.6,416.9h-2.0M323.6,398.0h-3.2M323.6,379.1h-2.0M323.6,360.2h-3.2M323.6,341.4h-2.0M323.6,322.5h-3.2M323.6,303.6h-2.0M323.6,284.7h-3.2M323.6,265.8h-2.0M323.6,246.9h-3.2" stroke="#000" stroke-width="1.2"/>
<text x="323.6" y="450.2" font-size="11.3" font-weight="bold" text-anchor="middle" fill="#111" stroke="#111" stroke-width="0.22">580</text>
<text x="365.9" y="450.2" font-size="11.3" font-weight="bold" text-anchor="middle" fill="#111" stroke="#111" stroke-width="0.22">630</text>
<text x="408.1" y="450.2" font-size="11.3" font-weight="bold" text-anchor="middle" fill="#111" stroke="#111" stroke-width="0.22">680</text>
<text x="450.4" y="450.2" font-size="11.3" font-weight="bold" text-anchor="middle" fill="#111" stroke="#111" stroke-width="0.22">730</text>
<text x="492.6" y="450.2" font-size="11.3" font-weight="bold" text-anchor="middle" fill="#111" stroke="#111" stroke-width="0.22">780</text>
<text x="534.9" y="450.2" font-size="11.3" font-weight="bold" text-anchor="middle" fill="#111" stroke="#111" stroke-width="0.22">830</text>
<text x="318.0" y="439.1" font-size="11.4" font-weight="bold" text-anchor="end" fill="#111" stroke="#111" stroke-width="0.22">0.0</text>
<text x="318.0" y="401.3" font-size="11.4" font-weight="bold" text-anchor="end" fill="#111" stroke="#111" stroke-width="0.22">7.0k</text>
<text x="318.0" y="363.5" font-size="11.4" font-weight="bold" text-anchor="end" fill="#111" stroke="#111" stroke-width="0.22">14.0k</text>
<text x="318.0" y="325.8" font-size="11.4" font-weight="bold" text-anchor="end" fill="#111" stroke="#111" stroke-width="0.22">21.0k</text>
<text x="318.0" y="288.0" font-size="11.4" font-weight="bold" text-anchor="end" fill="#111" stroke="#111" stroke-width="0.22">28.0k</text>
<text x="318.0" y="250.2" font-size="11.4" font-weight="bold" text-anchor="end" fill="#111" stroke="#111" stroke-width="0.22">35.0k</text>
<text x="382.6" y="466.4" font-size="11.5" font-weight="bold" textLength="93" lengthAdjust="spacingAndGlyphs" fill="#111" stroke="#111" stroke-width="0.22">Wavelength (nm)</text>
<text transform="translate(281.9,340.6) rotate(-90)" font-size="11.3" font-weight="bold" text-anchor="middle" textLength="194.2" lengthAdjust="spacingAndGlyphs" fill="#111" stroke="#111" stroke-width="0.22">Photoluminescence Intensity (a.u.)</text>
<rect x="472.2" y="249.8" width="58.6" height="155.2" fill="#fff" stroke="#000" stroke-width="1.6"/>
<line x1="473.8" y1="256.0" x2="495" y2="256.0" stroke="#5a5a5a" stroke-width="1.7"/>
<text x="497.2" y="258.9" font-size="9.8" font-weight="bold" textLength="31.6" lengthAdjust="spacingAndGlyphs" fill="#111" stroke="#111" stroke-width="0.22">360 nm</text>
<line x1="473.8" y1="267.8" x2="495" y2="267.8" stroke="#f04040" stroke-width="1.7"/>
<text x="497.2" y="270.7" font-size="9.8" font-weight="bold" textLength="31.6" lengthAdjust="spacingAndGlyphs" fill="#111" stroke="#111" stroke-width="0.22">370 nm</text>
<line x1="473.8" y1="279.7" x2="495" y2="279.7" stroke="#2266e0" stroke-width="1.7"/>
<text x="497.2" y="282.6" font-size="9.8" font-weight="bold" textLength="31.6" lengthAdjust="spacingAndGlyphs" fill="#111" stroke="#111" stroke-width="0.22">380 nm</text>
<line x1="473.8" y1="291.5" x2="495" y2="291.5" stroke="#3aa86a" stroke-width="1.7"/>
<text x="497.2" y="294.4" font-size="9.8" font-weight="bold" textLength="31.6" lengthAdjust="spacingAndGlyphs" fill="#111" stroke="#111" stroke-width="0.22">390 nm</text>
<line x1="473.8" y1="303.4" x2="495" y2="303.4" stroke="#aa77dd" stroke-width="1.7"/>
<text x="497.2" y="306.3" font-size="9.8" font-weight="bold" textLength="31.6" lengthAdjust="spacingAndGlyphs" fill="#111" stroke="#111" stroke-width="0.22">400 nm</text>
<line x1="473.8" y1="315.2" x2="495" y2="315.2" stroke="#d4a020" stroke-width="1.7"/>
<text x="497.2" y="318.1" font-size="9.8" font-weight="bold" textLength="31.6" lengthAdjust="spacingAndGlyphs" fill="#111" stroke="#111" stroke-width="0.22">410 nm</text>
<line x1="473.8" y1="327.0" x2="495" y2="327.0" stroke="#22cccc" stroke-width="1.7"/>
<text x="497.2" y="329.9" font-size="9.8" font-weight="bold" textLength="31.6" lengthAdjust="spacingAndGlyphs" fill="#111" stroke="#111" stroke-width="0.22">420 nm</text>
<line x1="473.8" y1="338.9" x2="495" y2="338.9" stroke="#7a5050" stroke-width="1.7"/>
<text x="497.2" y="341.8" font-size="9.8" font-weight="bold" textLength="31.6" lengthAdjust="spacingAndGlyphs" fill="#111" stroke="#111" stroke-width="0.22">430 nm</text>
<line x1="473.8" y1="350.7" x2="495" y2="350.7" stroke="#999922" stroke-width="1.7"/>
<text x="497.2" y="353.6" font-size="9.8" font-weight="bold" textLength="31.6" lengthAdjust="spacingAndGlyphs" fill="#111" stroke="#111" stroke-width="0.22">440 nm</text>
<line x1="473.8" y1="362.6" x2="495" y2="362.6" stroke="#ff6622" stroke-width="1.7"/>
<text x="497.2" y="365.5" font-size="9.8" font-weight="bold" textLength="31.6" lengthAdjust="spacingAndGlyphs" fill="#111" stroke="#111" stroke-width="0.22">450 nm</text>
<line x1="473.8" y1="374.4" x2="495" y2="374.4" stroke="#6699dd" stroke-width="1.7"/>
<text x="497.2" y="377.3" font-size="9.8" font-weight="bold" textLength="31.6" lengthAdjust="spacingAndGlyphs" fill="#111" stroke="#111" stroke-width="0.22">460 nm</text>
<line x1="473.8" y1="386.2" x2="495" y2="386.2" stroke="#66bb33" stroke-width="1.7"/>
<text x="497.2" y="389.1" font-size="9.8" font-weight="bold" textLength="31.6" lengthAdjust="spacingAndGlyphs" fill="#111" stroke="#111" stroke-width="0.22">470 nm</text>
<line x1="473.8" y1="398.1" x2="495" y2="398.1" stroke="#555555" stroke-width="1.7"/>
<text x="497.2" y="401.0" font-size="9.8" font-weight="bold" textLength="31.6" lengthAdjust="spacingAndGlyphs" fill="#111" stroke="#111" stroke-width="0.22">480 nm</text>
<text x="273.8" y="238.4" font-size="21.5" font-weight="bold" stroke="#000" stroke-width="0.22">d</text>
</svg>
</body></html>
